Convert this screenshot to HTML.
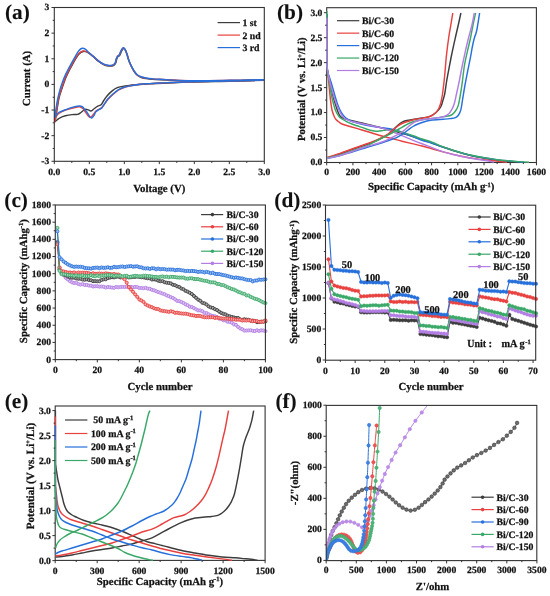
<!DOCTYPE html>
<html><head><meta charset="utf-8"><style>
html,body{margin:0;padding:0;background:#fff;}
svg{display:block;filter:blur(0.5px);}
text{font-family:"Liberation Serif", serif;font-weight:bold;fill:#111;stroke:#111;stroke-width:0.25px;text-rendering:geometricPrecision;}
</style></head><body>
<svg width="550" height="596" viewBox="0 0 550 596">
<rect width="550" height="596" fill="#fff"/>
<g>
<path d="M54.9,122 C55.13,120.72 55.62,118.27 56.3,114.3 C56.98,110.33 58,102.67 59,98.2 C60,93.73 61.18,90.85 62.3,87.5 C63.42,84.15 64.57,80.9 65.7,78.1 C66.83,75.3 67.98,72.95 69.1,70.7 C70.22,68.45 71.28,66.62 72.4,64.6 C73.52,62.58 74.68,60.38 75.8,58.6 C76.92,56.82 77.87,55.08 79.1,53.9 C80.33,52.72 81.97,51.83 83.2,51.5 C84.43,51.17 85.38,51.5 86.5,51.9 C87.62,52.3 88.75,53.08 89.9,53.9 C91.05,54.72 91.93,55.55 93.4,56.8 C94.87,58.05 96.92,60.07 98.7,61.4 C100.48,62.73 102.3,64.02 104.1,64.8 C105.9,65.58 107.93,65.98 109.5,66.1 C111.07,66.22 112.5,65.93 113.5,65.5 C114.5,65.07 115,64.42 115.5,63.5 C116,62.58 116.15,61.12 116.5,60 C116.85,58.88 117.08,57.55 117.6,56.8 C118.12,56.05 118.93,56.47 119.6,55.5 C120.27,54.53 120.93,52.17 121.6,51 C122.27,49.83 122.97,48.65 123.6,48.5 C124.23,48.35 124.83,49.17 125.4,50.1 C125.97,51.03 126.4,52.33 127,54.1 C127.6,55.87 128.22,58.55 129,60.7 C129.78,62.85 130.8,65.15 131.7,67 C132.6,68.85 133.47,70.42 134.4,71.8 C135.33,73.18 136.15,74.35 137.3,75.3 C138.45,76.25 139.8,76.95 141.3,77.5 C142.8,78.05 144.47,78.28 146.3,78.6 C148.13,78.92 149.97,79.2 152.3,79.4 C154.63,79.6 153.97,79.52 160.3,79.8 C166.63,80.08 178.63,80.93 190.3,81.1 C201.97,81.27 217.97,80.97 230.3,80.8 C242.63,80.63 258.63,80.22 264.3,80.1" fill="none" stroke="#3d3d3d" stroke-width="1.45" stroke-linejoin="round"/>
<path d="M264,80.3 C258.33,80.45 242.33,80.92 230,81.2 C217.67,81.48 203.33,81.57 190,82 C176.67,82.43 159.17,83.33 150,83.8 C140.83,84.27 138.43,84.53 135,84.8 C131.57,85.07 131.47,85.13 129.4,85.4 C127.33,85.67 124.62,86.02 122.6,86.4 C120.58,86.78 119.08,86.92 117.3,87.7 C115.52,88.48 113.58,89.75 111.9,91.1 C110.22,92.45 108.55,94.23 107.2,95.8 C105.85,97.37 104.82,99 103.8,100.5 C102.78,102 102.1,103.87 101.1,104.8 C100.1,105.73 98.92,105.48 97.8,106.1 C96.68,106.72 95.53,107.68 94.4,108.5 C93.27,109.32 92.02,110.77 91,111 C89.98,111.23 89.32,110.17 88.3,109.9 C87.28,109.63 86.13,108.97 84.9,109.4 C83.67,109.83 82.13,111.67 80.9,112.5 C79.67,113.33 78.97,114.05 77.5,114.4 C76.03,114.75 74.12,114.37 72.1,114.6 C70.08,114.83 67.42,115.27 65.4,115.8 C63.38,116.33 61.4,117.1 60,117.8 C58.6,118.5 57.9,119.3 57,120 C56.1,120.7 55,121.67 54.6,122" fill="none" stroke="#3d3d3d" stroke-width="1.45" stroke-linejoin="round"/>
<path d="M54.6,121.5 C54.83,120.22 55.32,117.77 56,113.8 C56.68,109.83 57.7,102.17 58.7,97.7 C59.7,93.23 60.88,90.35 62,87 C63.12,83.65 64.27,80.4 65.4,77.6 C66.53,74.8 67.68,72.45 68.8,70.2 C69.92,67.95 70.98,66.12 72.1,64.1 C73.22,62.08 74.38,59.88 75.5,58.1 C76.62,56.32 77.57,54.58 78.8,53.4 C80.03,52.22 81.67,51.33 82.9,51 C84.13,50.67 85.08,51 86.2,51.4 C87.32,51.8 88.45,52.58 89.6,53.4 C90.75,54.22 91.63,55.05 93.1,56.3 C94.57,57.55 96.62,59.57 98.4,60.9 C100.18,62.23 102,63.52 103.8,64.3 C105.6,65.08 107.63,65.48 109.2,65.6 C110.77,65.72 112.2,65.43 113.2,65 C114.2,64.57 114.7,63.92 115.2,63 C115.7,62.08 115.85,60.62 116.2,59.5 C116.55,58.38 116.78,57.05 117.3,56.3 C117.82,55.55 118.63,55.97 119.3,55 C119.97,54.03 120.63,51.67 121.3,50.5 C121.97,49.33 122.67,48.15 123.3,48 C123.93,47.85 124.53,48.67 125.1,49.6 C125.67,50.53 126.1,51.83 126.7,53.6 C127.3,55.37 127.92,58.05 128.7,60.2 C129.48,62.35 130.5,64.65 131.4,66.5 C132.3,68.35 133.17,69.92 134.1,71.3 C135.03,72.68 135.85,73.85 137,74.8 C138.15,75.75 139.5,76.45 141,77 C142.5,77.55 144.17,77.78 146,78.1 C147.83,78.42 149.67,78.7 152,78.9 C154.33,79.1 153.67,79.02 160,79.3 C166.33,79.58 178.33,80.43 190,80.6 C201.67,80.77 217.67,80.47 230,80.3 C242.33,80.13 258.33,79.72 264,79.6" fill="none" stroke="#e8413f" stroke-width="1.45" stroke-linejoin="round"/>
<path d="M264,80 C258.33,80.17 242.33,80.7 230,81 C217.67,81.3 201.67,81.47 190,81.8 C178.33,82.13 166.67,82.7 160,83 C153.33,83.3 153.33,83.4 150,83.6 C146.67,83.8 142.5,83.97 140,84.2 C137.5,84.43 136.55,84.73 135,85 C133.45,85.27 132.53,85.38 130.7,85.8 C128.87,86.22 126.02,86.8 124,87.5 C121.98,88.2 120.4,88.88 118.6,90 C116.8,91.12 115,92.62 113.2,94.2 C111.4,95.78 109.25,97.87 107.8,99.5 C106.35,101.13 105.5,102.65 104.5,104 C103.5,105.35 102.82,106.68 101.8,107.6 C100.78,108.52 99.4,108.88 98.4,109.5 C97.4,110.12 96.62,110.5 95.8,111.3 C94.98,112.1 94.22,113.42 93.5,114.3 C92.78,115.18 92.15,116.12 91.5,116.6 C90.85,117.08 90.27,117.47 89.6,117.2 C88.93,116.93 88.07,115.68 87.5,115 C86.93,114.32 86.7,113.85 86.2,113.1 C85.7,112.35 85.05,111.28 84.5,110.5 C83.95,109.72 83.57,108.95 82.9,108.4 C82.23,107.85 81.18,107.47 80.5,107.2 C79.82,106.93 80.2,106.63 78.8,106.8 C77.4,106.97 74.33,107.63 72.1,108.2 C69.87,108.77 67.63,109.32 65.4,110.2 C63.17,111.08 60.27,112.37 58.7,113.5 C57.13,114.63 56.68,115.67 56,117 C55.32,118.33 54.83,120.75 54.6,121.5" fill="none" stroke="#e8413f" stroke-width="1.45" stroke-linejoin="round"/>
<path d="M54.6,117.5 C54.8,116.25 55.33,112.85 55.8,110 C56.27,107.15 56.7,103.8 57.4,100.4 C58.1,97 59.12,92.73 60,89.6 C60.88,86.47 61.8,84.05 62.7,81.6 C63.6,79.15 64.38,77.13 65.4,74.9 C66.42,72.67 67.68,70.33 68.8,68.2 C69.92,66.07 70.98,64.12 72.1,62.1 C73.22,60.08 74.38,58 75.5,56.1 C76.62,54.2 77.68,52 78.8,50.7 C79.92,49.4 81.07,48.52 82.2,48.3 C83.33,48.08 84.47,48.65 85.6,49.4 C86.73,50.15 87.75,51.68 89,52.8 C90.25,53.92 91.53,54.77 93.1,56.1 C94.67,57.43 96.62,59.45 98.4,60.8 C100.18,62.15 102,63.42 103.8,64.2 C105.6,64.98 107.63,65.38 109.2,65.5 C110.77,65.62 112.2,65.35 113.2,64.9 C114.2,64.45 114.7,63.82 115.2,62.8 C115.7,61.78 115.82,59.8 116.2,58.8 C116.58,57.8 116.98,57.47 117.5,56.8 C118.02,56.13 118.67,55.92 119.3,54.8 C119.93,53.68 120.63,51.27 121.3,50.1 C121.97,48.93 122.67,47.92 123.3,47.8 C123.93,47.68 124.53,48.47 125.1,49.4 C125.67,50.33 126.1,51.6 126.7,53.4 C127.3,55.2 127.92,58.07 128.7,60.2 C129.48,62.33 130.5,64.42 131.4,66.2 C132.3,67.98 133.17,69.52 134.1,70.9 C135.03,72.28 135.85,73.52 137,74.5 C138.15,75.48 139.5,76.22 141,76.8 C142.5,77.38 144.17,77.67 146,78 C147.83,78.33 149.67,78.58 152,78.8 C154.33,79.02 153.67,79 160,79.3 C166.33,79.6 178.33,80.43 190,80.6 C201.67,80.77 217.67,80.47 230,80.3 C242.33,80.13 258.33,79.72 264,79.6" fill="none" stroke="#2670dc" stroke-width="1.45" stroke-linejoin="round"/>
<path d="M264,80 C258.33,80.17 242.33,80.7 230,81 C217.67,81.3 201.67,81.47 190,81.8 C178.33,82.13 166.67,82.7 160,83 C153.33,83.3 153.33,83.4 150,83.6 C146.67,83.8 142.5,83.97 140,84.2 C137.5,84.43 136.55,84.75 135,85 C133.45,85.25 132.53,85.32 130.7,85.7 C128.87,86.08 126.02,86.63 124,87.3 C121.98,87.97 120.4,88.62 118.6,89.7 C116.8,90.78 115,92.23 113.2,93.8 C111.4,95.37 109.25,97.43 107.8,99.1 C106.35,100.77 105.5,102.33 104.5,103.8 C103.5,105.27 102.82,106.88 101.8,107.9 C100.78,108.92 99.4,109.23 98.4,109.9 C97.4,110.57 96.58,110.9 95.8,111.9 C95.02,112.9 94.38,114.88 93.7,115.9 C93.02,116.92 92.37,117.88 91.7,118 C91.03,118.12 90.37,117.38 89.7,116.6 C89.03,115.82 88.48,114.42 87.7,113.3 C86.92,112.18 85.92,111.02 85,109.9 C84.08,108.78 83.23,107.25 82.2,106.6 C81.17,105.95 80.48,105.87 78.8,106 C77.12,106.13 74.33,106.77 72.1,107.4 C69.87,108.03 67.63,108.95 65.4,109.8 C63.17,110.65 60.27,111.55 58.7,112.5 C57.13,113.45 56.68,114.67 56,115.5 C55.32,116.33 54.83,117.17 54.6,117.5" fill="none" stroke="#2670dc" stroke-width="1.45" stroke-linejoin="round"/>
<rect x="54.3" y="7.5" width="210" height="153.8" fill="none" stroke="#333" stroke-width="1.1"/>
<line x1="54.3" y1="161.3" x2="54.3" y2="164.1" stroke="#333" stroke-width="1"/>
<line x1="89.3" y1="161.3" x2="89.3" y2="164.1" stroke="#333" stroke-width="1"/>
<line x1="124.3" y1="161.3" x2="124.3" y2="164.1" stroke="#333" stroke-width="1"/>
<line x1="159.3" y1="161.3" x2="159.3" y2="164.1" stroke="#333" stroke-width="1"/>
<line x1="194.3" y1="161.3" x2="194.3" y2="164.1" stroke="#333" stroke-width="1"/>
<line x1="229.3" y1="161.3" x2="229.3" y2="164.1" stroke="#333" stroke-width="1"/>
<line x1="264.3" y1="161.3" x2="264.3" y2="164.1" stroke="#333" stroke-width="1"/>
<line x1="71.8" y1="161.3" x2="71.8" y2="162.9" stroke="#333" stroke-width="1"/>
<line x1="106.8" y1="161.3" x2="106.8" y2="162.9" stroke="#333" stroke-width="1"/>
<line x1="141.8" y1="161.3" x2="141.8" y2="162.9" stroke="#333" stroke-width="1"/>
<line x1="176.8" y1="161.3" x2="176.8" y2="162.9" stroke="#333" stroke-width="1"/>
<line x1="211.8" y1="161.3" x2="211.8" y2="162.9" stroke="#333" stroke-width="1"/>
<line x1="246.8" y1="161.3" x2="246.8" y2="162.9" stroke="#333" stroke-width="1"/>
<text x="54.3" y="174.6" font-size="9.6" text-anchor="middle" >0.0</text>
<text x="89.3" y="174.6" font-size="9.6" text-anchor="middle" >0.5</text>
<text x="124.3" y="174.6" font-size="9.6" text-anchor="middle" >1.0</text>
<text x="159.3" y="174.6" font-size="9.6" text-anchor="middle" >1.5</text>
<text x="194.3" y="174.6" font-size="9.6" text-anchor="middle" >2.0</text>
<text x="229.3" y="174.6" font-size="9.6" text-anchor="middle" >2.5</text>
<text x="264.3" y="174.6" font-size="9.6" text-anchor="middle" >3.0</text>
<line x1="54.3" y1="161.29" x2="51.5" y2="161.29" stroke="#333" stroke-width="1"/>
<line x1="54.3" y1="135.66" x2="51.5" y2="135.66" stroke="#333" stroke-width="1"/>
<line x1="54.3" y1="110.03" x2="51.5" y2="110.03" stroke="#333" stroke-width="1"/>
<line x1="54.3" y1="84.4" x2="51.5" y2="84.4" stroke="#333" stroke-width="1"/>
<line x1="54.3" y1="58.77" x2="51.5" y2="58.77" stroke="#333" stroke-width="1"/>
<line x1="54.3" y1="33.14" x2="51.5" y2="33.14" stroke="#333" stroke-width="1"/>
<line x1="54.3" y1="7.51" x2="51.5" y2="7.51" stroke="#333" stroke-width="1"/>
<line x1="54.3" y1="148.48" x2="52.7" y2="148.48" stroke="#333" stroke-width="1"/>
<line x1="54.3" y1="122.84" x2="52.7" y2="122.84" stroke="#333" stroke-width="1"/>
<line x1="54.3" y1="97.22" x2="52.7" y2="97.22" stroke="#333" stroke-width="1"/>
<line x1="54.3" y1="71.59" x2="52.7" y2="71.59" stroke="#333" stroke-width="1"/>
<line x1="54.3" y1="45.96" x2="52.7" y2="45.96" stroke="#333" stroke-width="1"/>
<line x1="54.3" y1="20.33" x2="52.7" y2="20.33" stroke="#333" stroke-width="1"/>
<text x="49.3" y="164.19" font-size="9.6" text-anchor="end" >-3</text>
<text x="49.3" y="138.56" font-size="9.6" text-anchor="end" >-2</text>
<text x="49.3" y="112.93" font-size="9.6" text-anchor="end" >-1</text>
<text x="49.3" y="87.3" font-size="9.6" text-anchor="end" >0</text>
<text x="49.3" y="61.67" font-size="9.6" text-anchor="end" >1</text>
<text x="49.3" y="36.04" font-size="9.6" text-anchor="end" >2</text>
<text x="49.3" y="10.41" font-size="9.6" text-anchor="end" >3</text>
<line x1="217.6" y1="22.6" x2="240" y2="22.6" stroke="#3d3d3d" stroke-width="1.2"/>
<text x="242.4" y="26" font-size="9.75" text-anchor="start" >1 st</text>
<line x1="217.6" y1="35.1" x2="240" y2="35.1" stroke="#e8413f" stroke-width="1.2"/>
<text x="242.4" y="38.5" font-size="9.75" text-anchor="start" >2 nd</text>
<line x1="217.6" y1="47.6" x2="240" y2="47.6" stroke="#2670dc" stroke-width="1.2"/>
<text x="242.4" y="51" font-size="9.75" text-anchor="start" >3 rd</text>
<text x="0" y="0" font-size="10.8" text-anchor="middle" transform="translate(30.2,78.5) rotate(-90)">Current (A)</text>
<text x="159.3" y="191.5" font-size="10.8" text-anchor="middle" >Voltage (V)</text>
<text x="5" y="18.8" font-size="21.3" text-anchor="start" style="stroke-width:0.1px">(a)</text>
</g>
<rect x="326.7" y="7.7" width="209.7" height="154.8" fill="none" stroke="#333" stroke-width="1.1"/>
<path d="M326.8,14 C326.8,21.67 326.67,50.5 326.8,60 C326.93,69.5 327.23,68 327.6,71 C327.97,74 328.43,75.33 329,78 C329.57,80.67 330.33,84 331,87 C331.67,90 332.17,92.83 333,96 C333.83,99.17 335.17,103.33 336,106 C336.83,108.67 337.33,110.33 338,112 C338.67,113.67 339.17,114.97 340,116 C340.83,117.03 342,117.65 343,118.2 C344,118.75 344.5,118.88 346,119.3 C347.5,119.72 349.33,120.08 352,120.7 C354.67,121.32 358.67,122.2 362,123 C365.33,123.8 368.67,124.67 372,125.5 C375.33,126.33 378.67,127.17 382,128 C385.33,128.83 388.67,129.63 392,130.5 C395.33,131.37 398.67,132.25 402,133.2 C405.33,134.15 408.67,135.13 412,136.2 C415.33,137.27 418.67,138.47 422,139.6 C425.33,140.73 428.67,141.8 432,143 C435.33,144.2 438.5,145.55 442,146.8 C445.5,148.05 449.33,149.33 453,150.5 C456.67,151.67 460.33,152.8 464,153.8 C467.67,154.8 471.33,155.72 475,156.5 C478.67,157.28 482.33,157.88 486,158.5 C489.67,159.12 493.33,159.7 497,160.2 C500.67,160.7 504.83,161.15 508,161.5 C511.17,161.85 514.67,162.17 516,162.3" fill="none" stroke="#3d3d3d" stroke-width="1.45" stroke-linejoin="round"/>
<path d="M326.8,14 C326.8,21.67 326.67,50.33 326.8,60 C326.93,69.67 327.32,68.67 327.6,72 C327.88,75.33 328.18,77 328.5,80 C328.82,83 329.17,86.67 329.5,90 C329.83,93.33 330.08,96.67 330.5,100 C330.92,103.33 331.42,107.33 332,110 C332.58,112.67 333.33,114.42 334,116 C334.67,117.58 335.17,118.5 336,119.5 C336.83,120.5 338,121.25 339,122 C340,122.75 340.17,123.25 342,124 C343.83,124.75 346.67,125.5 350,126.5 C353.33,127.5 358.33,128.92 362,130 C365.67,131.08 368.67,132 372,133 C375.33,134 378.67,135.07 382,136 C385.33,136.93 388.67,137.73 392,138.6 C395.33,139.47 398.67,140.37 402,141.2 C405.33,142.03 408.67,142.8 412,143.6 C415.33,144.4 418.67,145.13 422,146 C425.33,146.87 428.67,147.87 432,148.8 C435.33,149.73 438.5,150.67 442,151.6 C445.5,152.53 449.33,153.53 453,154.4 C456.67,155.27 460.33,156.1 464,156.8 C467.67,157.5 471.33,158.07 475,158.6 C478.67,159.13 482.5,159.6 486,160 C489.5,160.4 492.5,160.63 496,161 C499.5,161.37 505.17,162 507,162.2" fill="none" stroke="#e8413f" stroke-width="1.45" stroke-linejoin="round"/>
<path d="M326.8,14 C326.8,21.67 326.67,50.5 326.8,60 C326.93,69.5 327.23,68.33 327.6,71 C327.97,73.67 328.43,74.17 329,76 C329.57,77.83 330.33,79.83 331,82 C331.67,84.17 332.33,86.67 333,89 C333.67,91.33 334.25,93.5 335,96 C335.75,98.5 336.67,101.67 337.5,104 C338.33,106.33 339.08,108.17 340,110 C340.92,111.83 342,113.67 343,115 C344,116.33 344.83,117.08 346,118 C347.17,118.92 348.67,119.83 350,120.5 C351.33,121.17 352,121.38 354,122 C356,122.62 359,123.5 362,124.2 C365,124.9 368.67,125.6 372,126.2 C375.33,126.8 378.67,127.28 382,127.8 C385.33,128.32 389,128.68 392,129.3 C395,129.92 397.67,130.72 400,131.5 C402.33,132.28 403.67,133.08 406,134 C408.33,134.92 411.33,135.97 414,137 C416.67,138.03 419,139.17 422,140.2 C425,141.23 428.67,142.1 432,143.2 C435.33,144.3 438.5,145.6 442,146.8 C445.5,148 449.4,149.28 453,150.4 C456.6,151.52 460.1,152.57 463.6,153.5 C467.1,154.43 470.35,155.25 474,156 C477.65,156.75 481.67,157.4 485.5,158 C489.33,158.6 493.37,159.13 497,159.6 C500.63,160.07 504.13,160.47 507.3,160.8 C510.47,161.13 513.22,161.35 516,161.6 C518.78,161.85 522.67,162.18 524,162.3" fill="none" stroke="#2670dc" stroke-width="1.45" stroke-linejoin="round"/>
<path d="M326.8,11 C326.8,19.17 326.67,49.83 326.8,60 C326.93,70.17 327.23,68.67 327.6,72 C327.97,75.33 328.43,76.5 329,80 C329.57,83.5 330.25,89 331,93 C331.75,97 332.67,100.92 333.5,104 C334.33,107.08 335.08,109.42 336,111.5 C336.92,113.58 338,115.25 339,116.5 C340,117.75 340.67,118.12 342,119 C343.33,119.88 345.33,120.97 347,121.8 C348.67,122.63 350.33,123.33 352,124 C353.67,124.67 355.33,125.23 357,125.8 C358.67,126.37 360.33,126.83 362,127.4 C363.67,127.97 365.22,128.65 367,129.2 C368.78,129.75 370.83,130.35 372.7,130.7 C374.57,131.05 376.38,131.35 378.2,131.3 C380.02,131.25 381.78,130.63 383.6,130.4 C385.42,130.17 387.28,129.85 389.1,129.9 C390.92,129.95 392.68,130.38 394.5,130.7 C396.32,131.02 398.08,131.35 400,131.8 C401.92,132.25 403.67,132.7 406,133.4 C408.33,134.1 411.33,135.07 414,136 C416.67,136.93 419,137.97 422,139 C425,140.03 428.67,140.97 432,142.2 C435.33,143.43 438.5,145.05 442,146.4 C445.5,147.75 449.4,149.13 453,150.3 C456.6,151.47 460.1,152.48 463.6,153.4 C467.1,154.32 470.35,155.05 474,155.8 C477.65,156.55 481.67,157.25 485.5,157.9 C489.33,158.55 493.37,159.22 497,159.7 C500.63,160.18 503.8,160.48 507.3,160.8 C510.8,161.12 514.38,161.35 518,161.6 C521.62,161.85 527.17,162.18 529,162.3" fill="none" stroke="#3aa868" stroke-width="1.45" stroke-linejoin="round"/>
<path d="M326.8,17.8 C326.8,24.83 326.67,51.3 326.8,60 C326.93,68.7 327.23,67 327.6,70 C327.97,73 328.27,74.67 329,78 C329.73,81.33 331,86.33 332,90 C333,93.67 334,97 335,100 C336,103 337,105.67 338,108 C339,110.33 340,112.33 341,114 C342,115.67 342.67,116.92 344,118 C345.33,119.08 347.33,119.83 349,120.5 C350.67,121.17 350.83,121.25 354,122 C357.17,122.75 363.33,124 368,125 C372.67,126 378,126.92 382,128 C386,129.08 388.67,130.23 392,131.5 C395.33,132.77 398.67,134.22 402,135.6 C405.33,136.98 408.67,138.43 412,139.8 C415.33,141.17 418.67,142.5 422,143.8 C425.33,145.1 428.67,146.33 432,147.6 C435.33,148.87 438.5,150.25 442,151.4 C445.5,152.55 449.4,153.6 453,154.5 C456.6,155.4 460.1,156.08 463.6,156.8 C467.1,157.52 470.35,158.18 474,158.8 C477.65,159.42 482.17,159.97 485.5,160.5 C488.83,161.03 492.58,161.75 494,162" fill="none" stroke="#b27ee3" stroke-width="1.45" stroke-linejoin="round"/>
<path d="M327,158 C329.17,157.33 335.83,155.42 340,154 C344.17,152.58 348.33,150.83 352,149.5 C355.67,148.17 358.67,147.17 362,146 C365.33,144.83 369,143.67 372,142.5 C375,141.33 377.33,140.33 380,139 C382.67,137.67 386,135.83 388,134.5 C390,133.17 390.67,132.25 392,131 C393.33,129.75 394.67,128.25 396,127 C397.33,125.75 398.67,124.47 400,123.5 C401.33,122.53 402.33,121.78 404,121.2 C405.67,120.62 408,120.37 410,120 C412,119.63 414,119.33 416,119 C418,118.67 419.67,118.45 422,118 C424.33,117.55 427.67,117.22 430,116.3 C432.33,115.38 434.22,114.05 436,112.5 C437.78,110.95 439.53,109.08 440.7,107 C441.87,104.92 442.32,102.25 443,100 C443.68,97.75 444.22,96.5 444.8,93.5 C445.38,90.5 445.83,86.02 446.5,82 C447.17,77.98 447.88,74.23 448.8,69.4 C449.72,64.57 450.88,58.4 452,53 C453.12,47.6 454.42,41.83 455.5,37 C456.58,32.17 457.6,28 458.5,24 C459.4,20 460.5,14.83 460.9,13" fill="none" stroke="#3d3d3d" stroke-width="1.45" stroke-linejoin="round"/>
<path d="M327,157.5 C329.17,156.83 335.83,154.92 340,153.5 C344.17,152.08 348.33,150.33 352,149 C355.67,147.67 358.67,146.67 362,145.5 C365.33,144.33 369,143.17 372,142 C375,140.83 377.33,139.83 380,138.5 C382.67,137.17 385.83,135.42 388,134 C390.17,132.58 391.33,131.33 393,130 C394.67,128.67 396.5,127.08 398,126 C399.5,124.92 400.67,124.17 402,123.5 C403.33,122.83 404.5,122.5 406,122 C407.5,121.5 409.33,120.95 411,120.5 C412.67,120.05 414.17,119.68 416,119.3 C417.83,118.92 420,118.58 422,118.2 C424,117.82 426.33,117.45 428,117 C429.67,116.55 430.67,116.25 432,115.5 C433.33,114.75 434.83,113.75 436,112.5 C437.17,111.25 438.17,109.75 439,108 C439.83,106.25 440.42,104.33 441,102 C441.58,99.67 442,97.33 442.5,94 C443,90.67 443.58,85.67 444,82 C444.42,78.33 444.58,76.5 445,72 C445.42,67.5 445.87,60.83 446.5,55 C447.13,49.17 448.05,42.17 448.8,37 C449.55,31.83 450.33,28 451,24 C451.67,20 452.5,14.83 452.8,13" fill="none" stroke="#e8413f" stroke-width="1.45" stroke-linejoin="round"/>
<path d="M327,158.4 C329.17,157.92 335.83,156.57 340,155.5 C344.17,154.43 347.83,153.25 352,152 C356.17,150.75 360.67,149.33 365,148 C369.33,146.67 374.33,145.17 378,144 C381.67,142.83 384,142.03 387,141 C390,139.97 393.5,138.88 396,137.8 C398.5,136.72 400,135.8 402,134.5 C404,133.2 406.17,131.33 408,130 C409.83,128.67 411.33,127.5 413,126.5 C414.67,125.5 416.5,124.67 418,124 C419.5,123.33 420.67,122.97 422,122.5 C423.33,122.03 424.33,121.62 426,121.2 C427.67,120.78 429.1,120.33 432,120 C434.9,119.67 440.4,119.43 443.4,119.2 C446.4,118.97 447.98,118.87 450,118.6 C452.02,118.33 454.08,118.2 455.5,117.6 C456.92,117 457.6,116.33 458.5,115 C459.4,113.67 460.23,112.1 460.9,109.6 C461.57,107.1 461.83,104.02 462.5,100 C463.17,95.98 464.07,90.17 464.9,85.5 C465.73,80.83 466.62,76.47 467.5,72 C468.38,67.53 469.37,63.03 470.2,58.7 C471.03,54.37 471.78,49.53 472.5,46 C473.22,42.47 473.95,39.5 474.5,37.5 C475.05,35.5 475.38,35.42 475.8,34 C476.22,32.58 476.55,31.33 477,29 C477.45,26.67 478.07,22.67 478.5,20 C478.93,17.33 479.42,14.17 479.6,13" fill="none" stroke="#2670dc" stroke-width="1.45" stroke-linejoin="round"/>
<path d="M327,158 C329.17,157.5 335.83,156.17 340,155 C344.17,153.83 347.83,152.42 352,151 C356.17,149.58 360.67,148.33 365,146.5 C369.33,144.67 374.67,141.67 378,140 C381.33,138.33 382.67,137.67 385,136.5 C387.33,135.33 389.67,134.25 392,133 C394.33,131.75 396.67,130.33 399,129 C401.33,127.67 404,126.08 406,125 C408,123.92 409.33,123.17 411,122.5 C412.67,121.83 414,121.48 416,121 C418,120.52 420.67,120 423,119.6 C425.33,119.2 427.5,118.93 430,118.6 C432.5,118.27 435.5,117.93 438,117.6 C440.5,117.27 442.75,117.03 445,116.6 C447.25,116.17 449.75,115.93 451.5,115 C453.25,114.07 454.38,112.57 455.5,111 C456.62,109.43 457.45,107.93 458.2,105.6 C458.95,103.27 459.33,100.8 460,97 C460.67,93.2 461.45,88.13 462.2,82.8 C462.95,77.47 463.6,70.37 464.5,65 C465.4,59.63 466.6,55.1 467.6,50.6 C468.6,46.1 469.6,42.27 470.5,38 C471.4,33.73 472.15,29.17 473,25 C473.85,20.83 475.17,15 475.6,13" fill="none" stroke="#3aa868" stroke-width="1.45" stroke-linejoin="round"/>
<path d="M327,158.4 C329.17,157.92 335.83,156.65 340,155.5 C344.17,154.35 347.83,152.92 352,151.5 C356.17,150.08 360,148.58 365,147 C370,145.42 377.5,143.58 382,142 C386.5,140.42 388.67,139.17 392,137.5 C395.33,135.83 399.33,133.75 402,132 C404.67,130.25 406,128.62 408,127 C410,125.38 412,123.43 414,122.3 C416,121.17 417.67,120.75 420,120.2 C422.33,119.65 425,119.42 428,119 C431,118.58 435.33,118.12 438,117.7 C440.67,117.28 442.2,117.17 444,116.5 C445.8,115.83 447.55,114.78 448.8,113.7 C450.05,112.62 450.62,111.57 451.5,110 C452.38,108.43 453.27,106.97 454.1,104.3 C454.93,101.63 455.6,98.05 456.5,94 C457.4,89.95 458.58,84.5 459.5,80 C460.42,75.5 461.1,71.45 462,67 C462.9,62.55 463.9,57.8 464.9,53.3 C465.9,48.8 466.88,44.47 468,40 C469.12,35.53 470.77,29.83 471.6,26.5 C472.43,23.17 472.55,22.25 473,20 C473.45,17.75 474.08,14.17 474.3,13" fill="none" stroke="#b27ee3" stroke-width="1.45" stroke-linejoin="round"/>
<line x1="326.7" y1="162.5" x2="326.7" y2="165.3" stroke="#333" stroke-width="1"/>
<line x1="352.92" y1="162.5" x2="352.92" y2="165.3" stroke="#333" stroke-width="1"/>
<line x1="379.14" y1="162.5" x2="379.14" y2="165.3" stroke="#333" stroke-width="1"/>
<line x1="405.36" y1="162.5" x2="405.36" y2="165.3" stroke="#333" stroke-width="1"/>
<line x1="431.58" y1="162.5" x2="431.58" y2="165.3" stroke="#333" stroke-width="1"/>
<line x1="457.8" y1="162.5" x2="457.8" y2="165.3" stroke="#333" stroke-width="1"/>
<line x1="484.02" y1="162.5" x2="484.02" y2="165.3" stroke="#333" stroke-width="1"/>
<line x1="510.24" y1="162.5" x2="510.24" y2="165.3" stroke="#333" stroke-width="1"/>
<line x1="536.46" y1="162.5" x2="536.46" y2="165.3" stroke="#333" stroke-width="1"/>
<line x1="339.81" y1="162.5" x2="339.81" y2="164.1" stroke="#333" stroke-width="1"/>
<line x1="366.03" y1="162.5" x2="366.03" y2="164.1" stroke="#333" stroke-width="1"/>
<line x1="392.25" y1="162.5" x2="392.25" y2="164.1" stroke="#333" stroke-width="1"/>
<line x1="418.47" y1="162.5" x2="418.47" y2="164.1" stroke="#333" stroke-width="1"/>
<line x1="444.69" y1="162.5" x2="444.69" y2="164.1" stroke="#333" stroke-width="1"/>
<line x1="470.91" y1="162.5" x2="470.91" y2="164.1" stroke="#333" stroke-width="1"/>
<line x1="497.13" y1="162.5" x2="497.13" y2="164.1" stroke="#333" stroke-width="1"/>
<line x1="523.35" y1="162.5" x2="523.35" y2="164.1" stroke="#333" stroke-width="1"/>
<text x="326.7" y="175.1" font-size="9.6" text-anchor="middle" >0</text>
<text x="352.92" y="175.1" font-size="9.6" text-anchor="middle" >200</text>
<text x="379.14" y="175.1" font-size="9.6" text-anchor="middle" >400</text>
<text x="405.36" y="175.1" font-size="9.6" text-anchor="middle" >600</text>
<text x="431.58" y="175.1" font-size="9.6" text-anchor="middle" >800</text>
<text x="457.8" y="175.1" font-size="9.6" text-anchor="middle" >1000</text>
<text x="484.02" y="175.1" font-size="9.6" text-anchor="middle" >1200</text>
<text x="510.24" y="175.1" font-size="9.6" text-anchor="middle" >1400</text>
<text x="536.46" y="175.1" font-size="9.6" text-anchor="middle" >1600</text>
<line x1="326.7" y1="162.5" x2="323.9" y2="162.5" stroke="#333" stroke-width="1"/>
<line x1="326.7" y1="137.53" x2="323.9" y2="137.53" stroke="#333" stroke-width="1"/>
<line x1="326.7" y1="112.57" x2="323.9" y2="112.57" stroke="#333" stroke-width="1"/>
<line x1="326.7" y1="87.61" x2="323.9" y2="87.61" stroke="#333" stroke-width="1"/>
<line x1="326.7" y1="62.64" x2="323.9" y2="62.64" stroke="#333" stroke-width="1"/>
<line x1="326.7" y1="37.67" x2="323.9" y2="37.67" stroke="#333" stroke-width="1"/>
<line x1="326.7" y1="12.71" x2="323.9" y2="12.71" stroke="#333" stroke-width="1"/>
<line x1="326.7" y1="150.02" x2="325.1" y2="150.02" stroke="#333" stroke-width="1"/>
<line x1="326.7" y1="125.05" x2="325.1" y2="125.05" stroke="#333" stroke-width="1"/>
<line x1="326.7" y1="100.09" x2="325.1" y2="100.09" stroke="#333" stroke-width="1"/>
<line x1="326.7" y1="75.12" x2="325.1" y2="75.12" stroke="#333" stroke-width="1"/>
<line x1="326.7" y1="50.16" x2="325.1" y2="50.16" stroke="#333" stroke-width="1"/>
<line x1="326.7" y1="25.19" x2="325.1" y2="25.19" stroke="#333" stroke-width="1"/>
<text x="322.4" y="165.4" font-size="9.6" text-anchor="end" >0.0</text>
<text x="322.4" y="140.44" font-size="9.6" text-anchor="end" >0.5</text>
<text x="322.4" y="115.47" font-size="9.6" text-anchor="end" >1.0</text>
<text x="322.4" y="90.51" font-size="9.6" text-anchor="end" >1.5</text>
<text x="322.4" y="65.54" font-size="9.6" text-anchor="end" >2.0</text>
<text x="322.4" y="40.57" font-size="9.6" text-anchor="end" >2.5</text>
<text x="322.4" y="15.61" font-size="9.6" text-anchor="end" >3.0</text>
<line x1="337" y1="20.7" x2="359.3" y2="20.7" stroke="#3d3d3d" stroke-width="1.2"/>
<text x="362.1" y="24.1" font-size="9.75" text-anchor="start" >Bi/C-30</text>
<line x1="337" y1="33.15" x2="359.3" y2="33.15" stroke="#e8413f" stroke-width="1.2"/>
<text x="362.1" y="36.55" font-size="9.75" text-anchor="start" >Bi/C-60</text>
<line x1="337" y1="45.6" x2="359.3" y2="45.6" stroke="#2670dc" stroke-width="1.2"/>
<text x="362.1" y="49" font-size="9.75" text-anchor="start" >Bi/C-90</text>
<line x1="337" y1="58.05" x2="359.3" y2="58.05" stroke="#3aa868" stroke-width="1.2"/>
<text x="362.1" y="61.45" font-size="9.75" text-anchor="start" >Bi/C-120</text>
<line x1="337" y1="70.5" x2="359.3" y2="70.5" stroke="#b27ee3" stroke-width="1.2"/>
<text x="362.1" y="73.9" font-size="9.75" text-anchor="start" >Bi/C-150</text>
<text x="0" y="0" font-size="10.8" text-anchor="middle" transform="translate(305.4,89.2) rotate(-90)">Potential (V vs. Li<tspan dy="-3.6" font-size="6.5">+</tspan><tspan dy="3.6">/Li)</tspan></text>
<text x="431.2" y="190.3" font-size="10.8" text-anchor="middle" >Specific Capacity (mAh g<tspan dy="-3.6" font-size="6.5">-1</tspan><tspan dy="3.6">)</tspan></text>
<text x="277" y="18.8" font-size="21.3" text-anchor="start" style="stroke-width:0.1px">(b)</text>
<path d="M57.4,241.66 L59.5,267.43 L61.6,271.99 L63.7,275.31 L65.8,277.85 L67.91,279.42 L70.01,281.21 L72.11,282.39 L74.21,283.05 L76.31,282.8 L78.41,284 L80.51,284.62 L82.61,284.13 L84.71,284.97 L86.81,284.89 L88.92,285.55 L91.02,285.68 L93.12,286.48 L95.22,286.27 L97.32,286.17 L99.42,286.66 L101.52,286.57 L103.62,286.78 L105.72,287.54 L107.82,286.96 L109.93,287.26 L112.03,287.54 L114.13,287.81 L116.23,286.93 L118.33,287.32 L120.43,287.05 L122.53,286.86 L124.63,287.02 L126.73,286.79 L128.83,287.31 L130.94,286.87 L133.04,287.33 L135.14,286.91 L137.24,287.05 L139.34,287.94 L141.44,287.99 L143.54,288.23 L145.64,287.78 L147.74,288.65 L149.84,288.77 L151.95,289.82 L154.05,290.33 L156.15,291.17 L158.25,292.06 L160.35,292.68 L162.45,293.54 L164.55,294.19 L166.65,295.4 L168.75,296.13 L170.85,297.19 L172.96,298.03 L175.06,299.34 L177.16,300.85 L179.26,301.11 L181.36,301.98 L183.46,303.03 L185.56,304.36 L187.66,305.19 L189.76,306.69 L191.87,307.03 L193.97,308.15 L196.07,309.31 L198.17,310.4 L200.27,310.44 L202.37,311.16 L204.47,312.95 L206.57,313.07 L208.67,314.28 L210.77,315.36 L212.88,316.01 L214.98,316.33 L217.08,317.03 L219.18,318.69 L221.28,318.9 L223.38,320.3 L225.48,320.46 L227.58,321.72 L229.68,322.01 L231.78,322.77 L233.88,324.33 L235.99,324.9 L238.09,326.9 L240.19,328.42 L242.29,329.17 L244.39,330.62 L246.49,330.53 L248.59,330.4 L250.69,330.28 L252.79,330.83 L254.89,331.04 L257,330.27 L259.1,330.93 L261.2,330.35 L263.3,330.5 L265.4,331.12" fill="none" stroke="#b27ee3" stroke-width="1"/>
<g fill="#dcc4f2" stroke="#b27ee3" stroke-width="0.9"><circle cx="57.4" cy="241.66" r="1.55"/><circle cx="59.5" cy="267.43" r="1.55"/><circle cx="61.6" cy="271.99" r="1.55"/><circle cx="63.7" cy="275.31" r="1.55"/><circle cx="65.8" cy="277.85" r="1.55"/><circle cx="67.91" cy="279.42" r="1.55"/><circle cx="70.01" cy="281.21" r="1.55"/><circle cx="72.11" cy="282.39" r="1.55"/><circle cx="74.21" cy="283.05" r="1.55"/><circle cx="76.31" cy="282.8" r="1.55"/><circle cx="78.41" cy="284" r="1.55"/><circle cx="80.51" cy="284.62" r="1.55"/><circle cx="82.61" cy="284.13" r="1.55"/><circle cx="84.71" cy="284.97" r="1.55"/><circle cx="86.81" cy="284.89" r="1.55"/><circle cx="88.92" cy="285.55" r="1.55"/><circle cx="91.02" cy="285.68" r="1.55"/><circle cx="93.12" cy="286.48" r="1.55"/><circle cx="95.22" cy="286.27" r="1.55"/><circle cx="97.32" cy="286.17" r="1.55"/><circle cx="99.42" cy="286.66" r="1.55"/><circle cx="101.52" cy="286.57" r="1.55"/><circle cx="103.62" cy="286.78" r="1.55"/><circle cx="105.72" cy="287.54" r="1.55"/><circle cx="107.82" cy="286.96" r="1.55"/><circle cx="109.93" cy="287.26" r="1.55"/><circle cx="112.03" cy="287.54" r="1.55"/><circle cx="114.13" cy="287.81" r="1.55"/><circle cx="116.23" cy="286.93" r="1.55"/><circle cx="118.33" cy="287.32" r="1.55"/><circle cx="120.43" cy="287.05" r="1.55"/><circle cx="122.53" cy="286.86" r="1.55"/><circle cx="124.63" cy="287.02" r="1.55"/><circle cx="126.73" cy="286.79" r="1.55"/><circle cx="128.83" cy="287.31" r="1.55"/><circle cx="130.94" cy="286.87" r="1.55"/><circle cx="133.04" cy="287.33" r="1.55"/><circle cx="135.14" cy="286.91" r="1.55"/><circle cx="137.24" cy="287.05" r="1.55"/><circle cx="139.34" cy="287.94" r="1.55"/><circle cx="141.44" cy="287.99" r="1.55"/><circle cx="143.54" cy="288.23" r="1.55"/><circle cx="145.64" cy="287.78" r="1.55"/><circle cx="147.74" cy="288.65" r="1.55"/><circle cx="149.84" cy="288.77" r="1.55"/><circle cx="151.95" cy="289.82" r="1.55"/><circle cx="154.05" cy="290.33" r="1.55"/><circle cx="156.15" cy="291.17" r="1.55"/><circle cx="158.25" cy="292.06" r="1.55"/><circle cx="160.35" cy="292.68" r="1.55"/><circle cx="162.45" cy="293.54" r="1.55"/><circle cx="164.55" cy="294.19" r="1.55"/><circle cx="166.65" cy="295.4" r="1.55"/><circle cx="168.75" cy="296.13" r="1.55"/><circle cx="170.85" cy="297.19" r="1.55"/><circle cx="172.96" cy="298.03" r="1.55"/><circle cx="175.06" cy="299.34" r="1.55"/><circle cx="177.16" cy="300.85" r="1.55"/><circle cx="179.26" cy="301.11" r="1.55"/><circle cx="181.36" cy="301.98" r="1.55"/><circle cx="183.46" cy="303.03" r="1.55"/><circle cx="185.56" cy="304.36" r="1.55"/><circle cx="187.66" cy="305.19" r="1.55"/><circle cx="189.76" cy="306.69" r="1.55"/><circle cx="191.87" cy="307.03" r="1.55"/><circle cx="193.97" cy="308.15" r="1.55"/><circle cx="196.07" cy="309.31" r="1.55"/><circle cx="198.17" cy="310.4" r="1.55"/><circle cx="200.27" cy="310.44" r="1.55"/><circle cx="202.37" cy="311.16" r="1.55"/><circle cx="204.47" cy="312.95" r="1.55"/><circle cx="206.57" cy="313.07" r="1.55"/><circle cx="208.67" cy="314.28" r="1.55"/><circle cx="210.77" cy="315.36" r="1.55"/><circle cx="212.88" cy="316.01" r="1.55"/><circle cx="214.98" cy="316.33" r="1.55"/><circle cx="217.08" cy="317.03" r="1.55"/><circle cx="219.18" cy="318.69" r="1.55"/><circle cx="221.28" cy="318.9" r="1.55"/><circle cx="223.38" cy="320.3" r="1.55"/><circle cx="225.48" cy="320.46" r="1.55"/><circle cx="227.58" cy="321.72" r="1.55"/><circle cx="229.68" cy="322.01" r="1.55"/><circle cx="231.78" cy="322.77" r="1.55"/><circle cx="233.88" cy="324.33" r="1.55"/><circle cx="235.99" cy="324.9" r="1.55"/><circle cx="238.09" cy="326.9" r="1.55"/><circle cx="240.19" cy="328.42" r="1.55"/><circle cx="242.29" cy="329.17" r="1.55"/><circle cx="244.39" cy="330.62" r="1.55"/><circle cx="246.49" cy="330.53" r="1.55"/><circle cx="248.59" cy="330.4" r="1.55"/><circle cx="250.69" cy="330.28" r="1.55"/><circle cx="252.79" cy="330.83" r="1.55"/><circle cx="254.89" cy="331.04" r="1.55"/><circle cx="257" cy="330.27" r="1.55"/><circle cx="259.1" cy="330.93" r="1.55"/><circle cx="261.2" cy="330.35" r="1.55"/><circle cx="263.3" cy="330.5" r="1.55"/><circle cx="265.4" cy="331.12" r="1.55"/></g>
<path d="M57.4,242.52 L59.5,269.15 L61.6,273.48 L63.7,274.45 L65.8,275.35 L67.91,276.43 L70.01,277.5 L72.11,277.73 L74.21,277.69 L76.31,278.43 L78.41,278.8 L80.51,278.8 L82.61,279.55 L84.71,279.74 L86.81,279.31 L88.92,280.03 L91.02,280.26 L93.12,281.16 L95.22,281.09 L97.32,281.26 L99.42,281.21 L101.52,279.96 L103.62,279.32 L105.72,279.28 L107.82,278.06 L109.93,277.6 L112.03,277.21 L114.13,277.37 L116.23,276.84 L118.33,276.63 L120.43,277.43 L122.53,277.44 L124.63,276.87 L126.73,276.63 L128.83,277.42 L130.94,277.27 L133.04,276.87 L135.14,276.89 L137.24,276.59 L139.34,276.96 L141.44,277.23 L143.54,277.32 L145.64,277.94 L147.74,278.29 L149.84,278.31 L151.95,279.51 L154.05,279.38 L156.15,279.71 L158.25,280.64 L160.35,281.22 L162.45,281.12 L164.55,282.19 L166.65,282.73 L168.75,282.96 L170.85,283.4 L172.96,284.73 L175.06,285.22 L177.16,286.35 L179.26,286.97 L181.36,288.52 L183.46,289.22 L185.56,290.88 L187.66,291.65 L189.76,292.81 L191.87,294.06 L193.97,296 L196.07,297.86 L198.17,299.6 L200.27,300.81 L202.37,302.79 L204.47,303.36 L206.57,304.53 L208.67,306.41 L210.77,307.4 L212.88,307.94 L214.98,309.2 L217.08,310.1 L219.18,311.64 L221.28,312.92 L223.38,313.82 L225.48,314.37 L227.58,315.62 L229.68,316.26 L231.78,316.91 L233.88,317.44 L235.99,317.99 L238.09,318 L240.19,319.32 L242.29,319.82 L244.39,319.2 L246.49,319.61 L248.59,319.84 L250.69,320.75 L252.79,320.63 L254.89,321.06 L257,322.2 L259.1,322.07 L261.2,321.71 L263.3,321.63 L265.4,321.53" fill="none" stroke="#3d3d3d" stroke-width="1"/>
<g fill="#a7a7a7" stroke="#3d3d3d" stroke-width="0.9"><circle cx="57.4" cy="242.52" r="1.55"/><circle cx="59.5" cy="269.15" r="1.55"/><circle cx="61.6" cy="273.48" r="1.55"/><circle cx="63.7" cy="274.45" r="1.55"/><circle cx="65.8" cy="275.35" r="1.55"/><circle cx="67.91" cy="276.43" r="1.55"/><circle cx="70.01" cy="277.5" r="1.55"/><circle cx="72.11" cy="277.73" r="1.55"/><circle cx="74.21" cy="277.69" r="1.55"/><circle cx="76.31" cy="278.43" r="1.55"/><circle cx="78.41" cy="278.8" r="1.55"/><circle cx="80.51" cy="278.8" r="1.55"/><circle cx="82.61" cy="279.55" r="1.55"/><circle cx="84.71" cy="279.74" r="1.55"/><circle cx="86.81" cy="279.31" r="1.55"/><circle cx="88.92" cy="280.03" r="1.55"/><circle cx="91.02" cy="280.26" r="1.55"/><circle cx="93.12" cy="281.16" r="1.55"/><circle cx="95.22" cy="281.09" r="1.55"/><circle cx="97.32" cy="281.26" r="1.55"/><circle cx="99.42" cy="281.21" r="1.55"/><circle cx="101.52" cy="279.96" r="1.55"/><circle cx="103.62" cy="279.32" r="1.55"/><circle cx="105.72" cy="279.28" r="1.55"/><circle cx="107.82" cy="278.06" r="1.55"/><circle cx="109.93" cy="277.6" r="1.55"/><circle cx="112.03" cy="277.21" r="1.55"/><circle cx="114.13" cy="277.37" r="1.55"/><circle cx="116.23" cy="276.84" r="1.55"/><circle cx="118.33" cy="276.63" r="1.55"/><circle cx="120.43" cy="277.43" r="1.55"/><circle cx="122.53" cy="277.44" r="1.55"/><circle cx="124.63" cy="276.87" r="1.55"/><circle cx="126.73" cy="276.63" r="1.55"/><circle cx="128.83" cy="277.42" r="1.55"/><circle cx="130.94" cy="277.27" r="1.55"/><circle cx="133.04" cy="276.87" r="1.55"/><circle cx="135.14" cy="276.89" r="1.55"/><circle cx="137.24" cy="276.59" r="1.55"/><circle cx="139.34" cy="276.96" r="1.55"/><circle cx="141.44" cy="277.23" r="1.55"/><circle cx="143.54" cy="277.32" r="1.55"/><circle cx="145.64" cy="277.94" r="1.55"/><circle cx="147.74" cy="278.29" r="1.55"/><circle cx="149.84" cy="278.31" r="1.55"/><circle cx="151.95" cy="279.51" r="1.55"/><circle cx="154.05" cy="279.38" r="1.55"/><circle cx="156.15" cy="279.71" r="1.55"/><circle cx="158.25" cy="280.64" r="1.55"/><circle cx="160.35" cy="281.22" r="1.55"/><circle cx="162.45" cy="281.12" r="1.55"/><circle cx="164.55" cy="282.19" r="1.55"/><circle cx="166.65" cy="282.73" r="1.55"/><circle cx="168.75" cy="282.96" r="1.55"/><circle cx="170.85" cy="283.4" r="1.55"/><circle cx="172.96" cy="284.73" r="1.55"/><circle cx="175.06" cy="285.22" r="1.55"/><circle cx="177.16" cy="286.35" r="1.55"/><circle cx="179.26" cy="286.97" r="1.55"/><circle cx="181.36" cy="288.52" r="1.55"/><circle cx="183.46" cy="289.22" r="1.55"/><circle cx="185.56" cy="290.88" r="1.55"/><circle cx="187.66" cy="291.65" r="1.55"/><circle cx="189.76" cy="292.81" r="1.55"/><circle cx="191.87" cy="294.06" r="1.55"/><circle cx="193.97" cy="296" r="1.55"/><circle cx="196.07" cy="297.86" r="1.55"/><circle cx="198.17" cy="299.6" r="1.55"/><circle cx="200.27" cy="300.81" r="1.55"/><circle cx="202.37" cy="302.79" r="1.55"/><circle cx="204.47" cy="303.36" r="1.55"/><circle cx="206.57" cy="304.53" r="1.55"/><circle cx="208.67" cy="306.41" r="1.55"/><circle cx="210.77" cy="307.4" r="1.55"/><circle cx="212.88" cy="307.94" r="1.55"/><circle cx="214.98" cy="309.2" r="1.55"/><circle cx="217.08" cy="310.1" r="1.55"/><circle cx="219.18" cy="311.64" r="1.55"/><circle cx="221.28" cy="312.92" r="1.55"/><circle cx="223.38" cy="313.82" r="1.55"/><circle cx="225.48" cy="314.37" r="1.55"/><circle cx="227.58" cy="315.62" r="1.55"/><circle cx="229.68" cy="316.26" r="1.55"/><circle cx="231.78" cy="316.91" r="1.55"/><circle cx="233.88" cy="317.44" r="1.55"/><circle cx="235.99" cy="317.99" r="1.55"/><circle cx="238.09" cy="318" r="1.55"/><circle cx="240.19" cy="319.32" r="1.55"/><circle cx="242.29" cy="319.82" r="1.55"/><circle cx="244.39" cy="319.2" r="1.55"/><circle cx="246.49" cy="319.61" r="1.55"/><circle cx="248.59" cy="319.84" r="1.55"/><circle cx="250.69" cy="320.75" r="1.55"/><circle cx="252.79" cy="320.63" r="1.55"/><circle cx="254.89" cy="321.06" r="1.55"/><circle cx="257" cy="322.2" r="1.55"/><circle cx="259.1" cy="322.07" r="1.55"/><circle cx="261.2" cy="321.71" r="1.55"/><circle cx="263.3" cy="321.63" r="1.55"/><circle cx="265.4" cy="321.53" r="1.55"/></g>
<path d="M57.4,244.24 L59.5,267.43 L61.6,271.08 L63.7,271.46 L65.8,272 L67.91,272.6 L70.01,272.49 L72.11,272.89 L74.21,272.43 L76.31,273.31 L78.41,272.51 L80.51,272.81 L82.61,272.66 L84.71,272.77 L86.81,272.86 L88.92,273.28 L91.02,273.94 L93.12,273.24 L95.22,273.87 L97.32,273.79 L99.42,273.46 L101.52,273.65 L103.62,273.82 L105.72,273.32 L107.82,273.71 L109.93,274.03 L112.03,274.35 L114.13,273.96 L116.23,274.58 L118.33,274.5 L120.43,275.71 L122.53,277.19 L124.63,279.33 L126.73,282.72 L128.83,287.06 L130.94,289.49 L133.04,291.82 L135.14,294.4 L137.24,296.84 L139.34,299.5 L141.44,300.52 L143.54,301.93 L145.64,304.43 L147.74,305.52 L149.84,306.49 L151.95,307.2 L154.05,308.28 L156.15,308.87 L158.25,309.07 L160.35,310.38 L162.45,310.84 L164.55,311.11 L166.65,311.45 L168.75,311.85 L170.85,311.26 L172.96,311.73 L175.06,312.81 L177.16,312.67 L179.26,313.14 L181.36,313.43 L183.46,313.68 L185.56,313.66 L187.66,314.09 L189.76,314.69 L191.87,315.23 L193.97,315.45 L196.07,315.98 L198.17,315.86 L200.27,316.02 L202.37,316.69 L204.47,317.2 L206.57,317.3 L208.67,317.29 L210.77,317.26 L212.88,317.27 L214.98,317.89 L217.08,317.63 L219.18,317.98 L221.28,318.35 L223.38,318.58 L225.48,318.63 L227.58,318.59 L229.68,319.05 L231.78,318.94 L233.88,319.35 L235.99,319.75 L238.09,319.62 L240.19,319.66 L242.29,320.5 L244.39,320.34 L246.49,320.55 L248.59,320.28 L250.69,320.43 L252.79,321.21 L254.89,320.88 L257,321.13 L259.1,321.82 L261.2,321.75 L263.3,321.59 L265.4,320.36" fill="none" stroke="#e8413f" stroke-width="1"/>
<g fill="#f4a9a8" stroke="#e8413f" stroke-width="0.9"><circle cx="57.4" cy="244.24" r="1.55"/><circle cx="59.5" cy="267.43" r="1.55"/><circle cx="61.6" cy="271.08" r="1.55"/><circle cx="63.7" cy="271.46" r="1.55"/><circle cx="65.8" cy="272" r="1.55"/><circle cx="67.91" cy="272.6" r="1.55"/><circle cx="70.01" cy="272.49" r="1.55"/><circle cx="72.11" cy="272.89" r="1.55"/><circle cx="74.21" cy="272.43" r="1.55"/><circle cx="76.31" cy="273.31" r="1.55"/><circle cx="78.41" cy="272.51" r="1.55"/><circle cx="80.51" cy="272.81" r="1.55"/><circle cx="82.61" cy="272.66" r="1.55"/><circle cx="84.71" cy="272.77" r="1.55"/><circle cx="86.81" cy="272.86" r="1.55"/><circle cx="88.92" cy="273.28" r="1.55"/><circle cx="91.02" cy="273.94" r="1.55"/><circle cx="93.12" cy="273.24" r="1.55"/><circle cx="95.22" cy="273.87" r="1.55"/><circle cx="97.32" cy="273.79" r="1.55"/><circle cx="99.42" cy="273.46" r="1.55"/><circle cx="101.52" cy="273.65" r="1.55"/><circle cx="103.62" cy="273.82" r="1.55"/><circle cx="105.72" cy="273.32" r="1.55"/><circle cx="107.82" cy="273.71" r="1.55"/><circle cx="109.93" cy="274.03" r="1.55"/><circle cx="112.03" cy="274.35" r="1.55"/><circle cx="114.13" cy="273.96" r="1.55"/><circle cx="116.23" cy="274.58" r="1.55"/><circle cx="118.33" cy="274.5" r="1.55"/><circle cx="120.43" cy="275.71" r="1.55"/><circle cx="122.53" cy="277.19" r="1.55"/><circle cx="124.63" cy="279.33" r="1.55"/><circle cx="126.73" cy="282.72" r="1.55"/><circle cx="128.83" cy="287.06" r="1.55"/><circle cx="130.94" cy="289.49" r="1.55"/><circle cx="133.04" cy="291.82" r="1.55"/><circle cx="135.14" cy="294.4" r="1.55"/><circle cx="137.24" cy="296.84" r="1.55"/><circle cx="139.34" cy="299.5" r="1.55"/><circle cx="141.44" cy="300.52" r="1.55"/><circle cx="143.54" cy="301.93" r="1.55"/><circle cx="145.64" cy="304.43" r="1.55"/><circle cx="147.74" cy="305.52" r="1.55"/><circle cx="149.84" cy="306.49" r="1.55"/><circle cx="151.95" cy="307.2" r="1.55"/><circle cx="154.05" cy="308.28" r="1.55"/><circle cx="156.15" cy="308.87" r="1.55"/><circle cx="158.25" cy="309.07" r="1.55"/><circle cx="160.35" cy="310.38" r="1.55"/><circle cx="162.45" cy="310.84" r="1.55"/><circle cx="164.55" cy="311.11" r="1.55"/><circle cx="166.65" cy="311.45" r="1.55"/><circle cx="168.75" cy="311.85" r="1.55"/><circle cx="170.85" cy="311.26" r="1.55"/><circle cx="172.96" cy="311.73" r="1.55"/><circle cx="175.06" cy="312.81" r="1.55"/><circle cx="177.16" cy="312.67" r="1.55"/><circle cx="179.26" cy="313.14" r="1.55"/><circle cx="181.36" cy="313.43" r="1.55"/><circle cx="183.46" cy="313.68" r="1.55"/><circle cx="185.56" cy="313.66" r="1.55"/><circle cx="187.66" cy="314.09" r="1.55"/><circle cx="189.76" cy="314.69" r="1.55"/><circle cx="191.87" cy="315.23" r="1.55"/><circle cx="193.97" cy="315.45" r="1.55"/><circle cx="196.07" cy="315.98" r="1.55"/><circle cx="198.17" cy="315.86" r="1.55"/><circle cx="200.27" cy="316.02" r="1.55"/><circle cx="202.37" cy="316.69" r="1.55"/><circle cx="204.47" cy="317.2" r="1.55"/><circle cx="206.57" cy="317.3" r="1.55"/><circle cx="208.67" cy="317.29" r="1.55"/><circle cx="210.77" cy="317.26" r="1.55"/><circle cx="212.88" cy="317.27" r="1.55"/><circle cx="214.98" cy="317.89" r="1.55"/><circle cx="217.08" cy="317.63" r="1.55"/><circle cx="219.18" cy="317.98" r="1.55"/><circle cx="221.28" cy="318.35" r="1.55"/><circle cx="223.38" cy="318.58" r="1.55"/><circle cx="225.48" cy="318.63" r="1.55"/><circle cx="227.58" cy="318.59" r="1.55"/><circle cx="229.68" cy="319.05" r="1.55"/><circle cx="231.78" cy="318.94" r="1.55"/><circle cx="233.88" cy="319.35" r="1.55"/><circle cx="235.99" cy="319.75" r="1.55"/><circle cx="238.09" cy="319.62" r="1.55"/><circle cx="240.19" cy="319.66" r="1.55"/><circle cx="242.29" cy="320.5" r="1.55"/><circle cx="244.39" cy="320.34" r="1.55"/><circle cx="246.49" cy="320.55" r="1.55"/><circle cx="248.59" cy="320.28" r="1.55"/><circle cx="250.69" cy="320.43" r="1.55"/><circle cx="252.79" cy="321.21" r="1.55"/><circle cx="254.89" cy="320.88" r="1.55"/><circle cx="257" cy="321.13" r="1.55"/><circle cx="259.1" cy="321.82" r="1.55"/><circle cx="261.2" cy="321.75" r="1.55"/><circle cx="263.3" cy="321.59" r="1.55"/><circle cx="265.4" cy="320.36" r="1.55"/></g>
<path d="M57.4,227.91 L59.5,270.86 L61.6,274.13 L63.7,274.18 L65.8,274.56 L67.91,274.96 L70.01,275.18 L72.11,275.37 L74.21,275.86 L76.31,275.38 L78.41,276 L80.51,275.87 L82.61,275.24 L84.71,276.01 L86.81,275.97 L88.92,275.98 L91.02,275.2 L93.12,276.01 L95.22,276.25 L97.32,275.49 L99.42,276.32 L101.52,275.47 L103.62,275.55 L105.72,275.28 L107.82,275.05 L109.93,275.34 L112.03,275.21 L114.13,276.1 L116.23,275.45 L118.33,275.82 L120.43,275.71 L122.53,276.44 L124.63,275.88 L126.73,275.79 L128.83,276.8 L130.94,276.63 L133.04,276.21 L135.14,275.77 L137.24,276.2 L139.34,276.28 L141.44,276.22 L143.54,275.86 L145.64,275.73 L147.74,276.11 L149.84,276.15 L151.95,276.51 L154.05,276.95 L156.15,276.9 L158.25,277.26 L160.35,276.86 L162.45,276.39 L164.55,276.99 L166.65,276.66 L168.75,277.29 L170.85,276.77 L172.96,276.85 L175.06,277.09 L177.16,277.41 L179.26,277.6 L181.36,277.59 L183.46,277.53 L185.56,278.51 L187.66,278.77 L189.76,278.3 L191.87,278.34 L193.97,278.92 L196.07,279.17 L198.17,279.06 L200.27,279.78 L202.37,280.21 L204.47,280.79 L206.57,280.91 L208.67,281.71 L210.77,282.31 L212.88,282.35 L214.98,282.59 L217.08,283.87 L219.18,284.05 L221.28,284.96 L223.38,285.1 L225.48,286.15 L227.58,287.25 L229.68,288.08 L231.78,289.05 L233.88,289.51 L235.99,290.55 L238.09,291.7 L240.19,292.43 L242.29,293.41 L244.39,293.87 L246.49,295.46 L248.59,295.48 L250.69,296.91 L252.79,297.69 L254.89,298.73 L257,299.25 L259.1,300.17 L261.2,301.39 L263.3,302.41 L265.4,303.11" fill="none" stroke="#3aa868" stroke-width="1"/>
<g fill="#a6d7bb" stroke="#3aa868" stroke-width="0.9"><circle cx="57.4" cy="227.91" r="1.55"/><circle cx="59.5" cy="270.86" r="1.55"/><circle cx="61.6" cy="274.13" r="1.55"/><circle cx="63.7" cy="274.18" r="1.55"/><circle cx="65.8" cy="274.56" r="1.55"/><circle cx="67.91" cy="274.96" r="1.55"/><circle cx="70.01" cy="275.18" r="1.55"/><circle cx="72.11" cy="275.37" r="1.55"/><circle cx="74.21" cy="275.86" r="1.55"/><circle cx="76.31" cy="275.38" r="1.55"/><circle cx="78.41" cy="276" r="1.55"/><circle cx="80.51" cy="275.87" r="1.55"/><circle cx="82.61" cy="275.24" r="1.55"/><circle cx="84.71" cy="276.01" r="1.55"/><circle cx="86.81" cy="275.97" r="1.55"/><circle cx="88.92" cy="275.98" r="1.55"/><circle cx="91.02" cy="275.2" r="1.55"/><circle cx="93.12" cy="276.01" r="1.55"/><circle cx="95.22" cy="276.25" r="1.55"/><circle cx="97.32" cy="275.49" r="1.55"/><circle cx="99.42" cy="276.32" r="1.55"/><circle cx="101.52" cy="275.47" r="1.55"/><circle cx="103.62" cy="275.55" r="1.55"/><circle cx="105.72" cy="275.28" r="1.55"/><circle cx="107.82" cy="275.05" r="1.55"/><circle cx="109.93" cy="275.34" r="1.55"/><circle cx="112.03" cy="275.21" r="1.55"/><circle cx="114.13" cy="276.1" r="1.55"/><circle cx="116.23" cy="275.45" r="1.55"/><circle cx="118.33" cy="275.82" r="1.55"/><circle cx="120.43" cy="275.71" r="1.55"/><circle cx="122.53" cy="276.44" r="1.55"/><circle cx="124.63" cy="275.88" r="1.55"/><circle cx="126.73" cy="275.79" r="1.55"/><circle cx="128.83" cy="276.8" r="1.55"/><circle cx="130.94" cy="276.63" r="1.55"/><circle cx="133.04" cy="276.21" r="1.55"/><circle cx="135.14" cy="275.77" r="1.55"/><circle cx="137.24" cy="276.2" r="1.55"/><circle cx="139.34" cy="276.28" r="1.55"/><circle cx="141.44" cy="276.22" r="1.55"/><circle cx="143.54" cy="275.86" r="1.55"/><circle cx="145.64" cy="275.73" r="1.55"/><circle cx="147.74" cy="276.11" r="1.55"/><circle cx="149.84" cy="276.15" r="1.55"/><circle cx="151.95" cy="276.51" r="1.55"/><circle cx="154.05" cy="276.95" r="1.55"/><circle cx="156.15" cy="276.9" r="1.55"/><circle cx="158.25" cy="277.26" r="1.55"/><circle cx="160.35" cy="276.86" r="1.55"/><circle cx="162.45" cy="276.39" r="1.55"/><circle cx="164.55" cy="276.99" r="1.55"/><circle cx="166.65" cy="276.66" r="1.55"/><circle cx="168.75" cy="277.29" r="1.55"/><circle cx="170.85" cy="276.77" r="1.55"/><circle cx="172.96" cy="276.85" r="1.55"/><circle cx="175.06" cy="277.09" r="1.55"/><circle cx="177.16" cy="277.41" r="1.55"/><circle cx="179.26" cy="277.6" r="1.55"/><circle cx="181.36" cy="277.59" r="1.55"/><circle cx="183.46" cy="277.53" r="1.55"/><circle cx="185.56" cy="278.51" r="1.55"/><circle cx="187.66" cy="278.77" r="1.55"/><circle cx="189.76" cy="278.3" r="1.55"/><circle cx="191.87" cy="278.34" r="1.55"/><circle cx="193.97" cy="278.92" r="1.55"/><circle cx="196.07" cy="279.17" r="1.55"/><circle cx="198.17" cy="279.06" r="1.55"/><circle cx="200.27" cy="279.78" r="1.55"/><circle cx="202.37" cy="280.21" r="1.55"/><circle cx="204.47" cy="280.79" r="1.55"/><circle cx="206.57" cy="280.91" r="1.55"/><circle cx="208.67" cy="281.71" r="1.55"/><circle cx="210.77" cy="282.31" r="1.55"/><circle cx="212.88" cy="282.35" r="1.55"/><circle cx="214.98" cy="282.59" r="1.55"/><circle cx="217.08" cy="283.87" r="1.55"/><circle cx="219.18" cy="284.05" r="1.55"/><circle cx="221.28" cy="284.96" r="1.55"/><circle cx="223.38" cy="285.1" r="1.55"/><circle cx="225.48" cy="286.15" r="1.55"/><circle cx="227.58" cy="287.25" r="1.55"/><circle cx="229.68" cy="288.08" r="1.55"/><circle cx="231.78" cy="289.05" r="1.55"/><circle cx="233.88" cy="289.51" r="1.55"/><circle cx="235.99" cy="290.55" r="1.55"/><circle cx="238.09" cy="291.7" r="1.55"/><circle cx="240.19" cy="292.43" r="1.55"/><circle cx="242.29" cy="293.41" r="1.55"/><circle cx="244.39" cy="293.87" r="1.55"/><circle cx="246.49" cy="295.46" r="1.55"/><circle cx="248.59" cy="295.48" r="1.55"/><circle cx="250.69" cy="296.91" r="1.55"/><circle cx="252.79" cy="297.69" r="1.55"/><circle cx="254.89" cy="298.73" r="1.55"/><circle cx="257" cy="299.25" r="1.55"/><circle cx="259.1" cy="300.17" r="1.55"/><circle cx="261.2" cy="301.39" r="1.55"/><circle cx="263.3" cy="302.41" r="1.55"/><circle cx="265.4" cy="303.11" r="1.55"/></g>
<path d="M57.4,231.35 L59.5,257.12 L61.6,259.33 L63.7,261.52 L65.8,262.89 L67.91,264.38 L70.01,265.46 L72.11,266.28 L74.21,266.84 L76.31,266.56 L78.41,266.82 L80.51,266.74 L82.61,267.06 L84.71,267.91 L86.81,268.18 L88.92,268.32 L91.02,268.61 L93.12,267.98 L95.22,267.73 L97.32,267.59 L99.42,268.16 L101.52,267.43 L103.62,267.91 L105.72,267.7 L107.82,267.29 L109.93,267.85 L112.03,267.72 L114.13,266.83 L116.23,267.26 L118.33,267.06 L120.43,266.7 L122.53,266.47 L124.63,267.03 L126.73,266.57 L128.83,266.33 L130.94,266.15 L133.04,266.65 L135.14,266.48 L137.24,266.31 L139.34,267.11 L141.44,267.38 L143.54,268.25 L145.64,268.52 L147.74,268.24 L149.84,268.93 L151.95,268.26 L154.05,268.36 L156.15,269.32 L158.25,268.57 L160.35,269.28 L162.45,268.99 L164.55,269.12 L166.65,269.72 L168.75,269.45 L170.85,269.59 L172.96,269.57 L175.06,270.26 L177.16,269.9 L179.26,269.82 L181.36,270.26 L183.46,270.53 L185.56,271.11 L187.66,270.85 L189.76,271.14 L191.87,270.9 L193.97,271.1 L196.07,271.37 L198.17,271.93 L200.27,271.61 L202.37,271.78 L204.47,272.41 L206.57,271.84 L208.67,272.38 L210.77,273.23 L212.88,272.7 L214.98,273.81 L217.08,274.04 L219.18,274.07 L221.28,274.63 L223.38,275.1 L225.48,275.44 L227.58,276.06 L229.68,276.64 L231.78,277.21 L233.88,277.75 L235.99,277.51 L238.09,277.8 L240.19,278.34 L242.29,278.46 L244.39,279.17 L246.49,279.74 L248.59,280.09 L250.69,280.06 L252.79,281.39 L254.89,280.57 L257,280.49 L259.1,279.61 L261.2,279.8 L263.3,279.6 L265.4,279.3" fill="none" stroke="#2670dc" stroke-width="1"/>
<g fill="#9dbeef" stroke="#2670dc" stroke-width="0.9"><circle cx="57.4" cy="231.35" r="1.55"/><circle cx="59.5" cy="257.12" r="1.55"/><circle cx="61.6" cy="259.33" r="1.55"/><circle cx="63.7" cy="261.52" r="1.55"/><circle cx="65.8" cy="262.89" r="1.55"/><circle cx="67.91" cy="264.38" r="1.55"/><circle cx="70.01" cy="265.46" r="1.55"/><circle cx="72.11" cy="266.28" r="1.55"/><circle cx="74.21" cy="266.84" r="1.55"/><circle cx="76.31" cy="266.56" r="1.55"/><circle cx="78.41" cy="266.82" r="1.55"/><circle cx="80.51" cy="266.74" r="1.55"/><circle cx="82.61" cy="267.06" r="1.55"/><circle cx="84.71" cy="267.91" r="1.55"/><circle cx="86.81" cy="268.18" r="1.55"/><circle cx="88.92" cy="268.32" r="1.55"/><circle cx="91.02" cy="268.61" r="1.55"/><circle cx="93.12" cy="267.98" r="1.55"/><circle cx="95.22" cy="267.73" r="1.55"/><circle cx="97.32" cy="267.59" r="1.55"/><circle cx="99.42" cy="268.16" r="1.55"/><circle cx="101.52" cy="267.43" r="1.55"/><circle cx="103.62" cy="267.91" r="1.55"/><circle cx="105.72" cy="267.7" r="1.55"/><circle cx="107.82" cy="267.29" r="1.55"/><circle cx="109.93" cy="267.85" r="1.55"/><circle cx="112.03" cy="267.72" r="1.55"/><circle cx="114.13" cy="266.83" r="1.55"/><circle cx="116.23" cy="267.26" r="1.55"/><circle cx="118.33" cy="267.06" r="1.55"/><circle cx="120.43" cy="266.7" r="1.55"/><circle cx="122.53" cy="266.47" r="1.55"/><circle cx="124.63" cy="267.03" r="1.55"/><circle cx="126.73" cy="266.57" r="1.55"/><circle cx="128.83" cy="266.33" r="1.55"/><circle cx="130.94" cy="266.15" r="1.55"/><circle cx="133.04" cy="266.65" r="1.55"/><circle cx="135.14" cy="266.48" r="1.55"/><circle cx="137.24" cy="266.31" r="1.55"/><circle cx="139.34" cy="267.11" r="1.55"/><circle cx="141.44" cy="267.38" r="1.55"/><circle cx="143.54" cy="268.25" r="1.55"/><circle cx="145.64" cy="268.52" r="1.55"/><circle cx="147.74" cy="268.24" r="1.55"/><circle cx="149.84" cy="268.93" r="1.55"/><circle cx="151.95" cy="268.26" r="1.55"/><circle cx="154.05" cy="268.36" r="1.55"/><circle cx="156.15" cy="269.32" r="1.55"/><circle cx="158.25" cy="268.57" r="1.55"/><circle cx="160.35" cy="269.28" r="1.55"/><circle cx="162.45" cy="268.99" r="1.55"/><circle cx="164.55" cy="269.12" r="1.55"/><circle cx="166.65" cy="269.72" r="1.55"/><circle cx="168.75" cy="269.45" r="1.55"/><circle cx="170.85" cy="269.59" r="1.55"/><circle cx="172.96" cy="269.57" r="1.55"/><circle cx="175.06" cy="270.26" r="1.55"/><circle cx="177.16" cy="269.9" r="1.55"/><circle cx="179.26" cy="269.82" r="1.55"/><circle cx="181.36" cy="270.26" r="1.55"/><circle cx="183.46" cy="270.53" r="1.55"/><circle cx="185.56" cy="271.11" r="1.55"/><circle cx="187.66" cy="270.85" r="1.55"/><circle cx="189.76" cy="271.14" r="1.55"/><circle cx="191.87" cy="270.9" r="1.55"/><circle cx="193.97" cy="271.1" r="1.55"/><circle cx="196.07" cy="271.37" r="1.55"/><circle cx="198.17" cy="271.93" r="1.55"/><circle cx="200.27" cy="271.61" r="1.55"/><circle cx="202.37" cy="271.78" r="1.55"/><circle cx="204.47" cy="272.41" r="1.55"/><circle cx="206.57" cy="271.84" r="1.55"/><circle cx="208.67" cy="272.38" r="1.55"/><circle cx="210.77" cy="273.23" r="1.55"/><circle cx="212.88" cy="272.7" r="1.55"/><circle cx="214.98" cy="273.81" r="1.55"/><circle cx="217.08" cy="274.04" r="1.55"/><circle cx="219.18" cy="274.07" r="1.55"/><circle cx="221.28" cy="274.63" r="1.55"/><circle cx="223.38" cy="275.1" r="1.55"/><circle cx="225.48" cy="275.44" r="1.55"/><circle cx="227.58" cy="276.06" r="1.55"/><circle cx="229.68" cy="276.64" r="1.55"/><circle cx="231.78" cy="277.21" r="1.55"/><circle cx="233.88" cy="277.75" r="1.55"/><circle cx="235.99" cy="277.51" r="1.55"/><circle cx="238.09" cy="277.8" r="1.55"/><circle cx="240.19" cy="278.34" r="1.55"/><circle cx="242.29" cy="278.46" r="1.55"/><circle cx="244.39" cy="279.17" r="1.55"/><circle cx="246.49" cy="279.74" r="1.55"/><circle cx="248.59" cy="280.09" r="1.55"/><circle cx="250.69" cy="280.06" r="1.55"/><circle cx="252.79" cy="281.39" r="1.55"/><circle cx="254.89" cy="280.57" r="1.55"/><circle cx="257" cy="280.49" r="1.55"/><circle cx="259.1" cy="279.61" r="1.55"/><circle cx="261.2" cy="279.8" r="1.55"/><circle cx="263.3" cy="279.6" r="1.55"/><circle cx="265.4" cy="279.3" r="1.55"/></g>
<rect x="55.3" y="205" width="210.1" height="154.6" fill="none" stroke="#333" stroke-width="1.1"/>
<line x1="55.3" y1="359.6" x2="55.3" y2="362.4" stroke="#333" stroke-width="1"/>
<line x1="97.32" y1="359.6" x2="97.32" y2="362.4" stroke="#333" stroke-width="1"/>
<line x1="139.34" y1="359.6" x2="139.34" y2="362.4" stroke="#333" stroke-width="1"/>
<line x1="181.36" y1="359.6" x2="181.36" y2="362.4" stroke="#333" stroke-width="1"/>
<line x1="223.38" y1="359.6" x2="223.38" y2="362.4" stroke="#333" stroke-width="1"/>
<line x1="265.4" y1="359.6" x2="265.4" y2="362.4" stroke="#333" stroke-width="1"/>
<line x1="76.31" y1="359.6" x2="76.31" y2="361.2" stroke="#333" stroke-width="1"/>
<line x1="118.33" y1="359.6" x2="118.33" y2="361.2" stroke="#333" stroke-width="1"/>
<line x1="160.35" y1="359.6" x2="160.35" y2="361.2" stroke="#333" stroke-width="1"/>
<line x1="202.37" y1="359.6" x2="202.37" y2="361.2" stroke="#333" stroke-width="1"/>
<line x1="244.39" y1="359.6" x2="244.39" y2="361.2" stroke="#333" stroke-width="1"/>
<text x="55.3" y="372.9" font-size="9.6" text-anchor="middle" >0</text>
<text x="97.32" y="372.9" font-size="9.6" text-anchor="middle" >20</text>
<text x="139.34" y="372.9" font-size="9.6" text-anchor="middle" >40</text>
<text x="181.36" y="372.9" font-size="9.6" text-anchor="middle" >60</text>
<text x="223.38" y="372.9" font-size="9.6" text-anchor="middle" >80</text>
<text x="265.4" y="372.9" font-size="9.6" text-anchor="middle" >100</text>
<line x1="55.3" y1="359.6" x2="52.5" y2="359.6" stroke="#333" stroke-width="1"/>
<line x1="55.3" y1="342.42" x2="52.5" y2="342.42" stroke="#333" stroke-width="1"/>
<line x1="55.3" y1="325.24" x2="52.5" y2="325.24" stroke="#333" stroke-width="1"/>
<line x1="55.3" y1="308.06" x2="52.5" y2="308.06" stroke="#333" stroke-width="1"/>
<line x1="55.3" y1="290.88" x2="52.5" y2="290.88" stroke="#333" stroke-width="1"/>
<line x1="55.3" y1="273.7" x2="52.5" y2="273.7" stroke="#333" stroke-width="1"/>
<line x1="55.3" y1="256.52" x2="52.5" y2="256.52" stroke="#333" stroke-width="1"/>
<line x1="55.3" y1="239.34" x2="52.5" y2="239.34" stroke="#333" stroke-width="1"/>
<line x1="55.3" y1="222.16" x2="52.5" y2="222.16" stroke="#333" stroke-width="1"/>
<line x1="55.3" y1="204.98" x2="52.5" y2="204.98" stroke="#333" stroke-width="1"/>
<line x1="55.3" y1="351.01" x2="53.7" y2="351.01" stroke="#333" stroke-width="1"/>
<line x1="55.3" y1="333.83" x2="53.7" y2="333.83" stroke="#333" stroke-width="1"/>
<line x1="55.3" y1="316.65" x2="53.7" y2="316.65" stroke="#333" stroke-width="1"/>
<line x1="55.3" y1="299.47" x2="53.7" y2="299.47" stroke="#333" stroke-width="1"/>
<line x1="55.3" y1="282.29" x2="53.7" y2="282.29" stroke="#333" stroke-width="1"/>
<line x1="55.3" y1="265.11" x2="53.7" y2="265.11" stroke="#333" stroke-width="1"/>
<line x1="55.3" y1="247.93" x2="53.7" y2="247.93" stroke="#333" stroke-width="1"/>
<line x1="55.3" y1="230.75" x2="53.7" y2="230.75" stroke="#333" stroke-width="1"/>
<line x1="55.3" y1="213.57" x2="53.7" y2="213.57" stroke="#333" stroke-width="1"/>
<text x="51" y="362.5" font-size="9.6" text-anchor="end" >0</text>
<text x="51" y="345.32" font-size="9.6" text-anchor="end" >200</text>
<text x="51" y="328.14" font-size="9.6" text-anchor="end" >400</text>
<text x="51" y="310.96" font-size="9.6" text-anchor="end" >600</text>
<text x="51" y="293.78" font-size="9.6" text-anchor="end" >800</text>
<text x="51" y="276.6" font-size="9.6" text-anchor="end" >1000</text>
<text x="51" y="259.42" font-size="9.6" text-anchor="end" >1200</text>
<text x="51" y="242.24" font-size="9.6" text-anchor="end" >1400</text>
<text x="51" y="225.06" font-size="9.6" text-anchor="end" >1600</text>
<text x="51" y="207.88" font-size="9.6" text-anchor="end" >1800</text>
<line x1="201.1" y1="214.6" x2="223.2" y2="214.6" stroke="#3d3d3d" stroke-width="1.2"/>
<circle cx="212.4" cy="214.6" r="1.8" fill="#3d3d3d"/>
<text x="226.6" y="218" font-size="9.75" text-anchor="start" >Bi/C-30</text>
<line x1="201.1" y1="226.8" x2="223.2" y2="226.8" stroke="#e8413f" stroke-width="1.2"/>
<circle cx="212.4" cy="226.8" r="1.8" fill="#e8413f"/>
<text x="226.6" y="230.2" font-size="9.75" text-anchor="start" >Bi/C-60</text>
<line x1="201.1" y1="239" x2="223.2" y2="239" stroke="#2670dc" stroke-width="1.2"/>
<circle cx="212.4" cy="239" r="1.8" fill="#2670dc"/>
<text x="226.6" y="242.4" font-size="9.75" text-anchor="start" >Bi/C-90</text>
<line x1="201.1" y1="251.2" x2="223.2" y2="251.2" stroke="#3aa868" stroke-width="1.2"/>
<circle cx="212.4" cy="251.2" r="1.8" fill="#3aa868"/>
<text x="226.6" y="254.6" font-size="9.75" text-anchor="start" >Bi/C-120</text>
<line x1="201.1" y1="263.4" x2="223.2" y2="263.4" stroke="#b27ee3" stroke-width="1.2"/>
<circle cx="212.4" cy="263.4" r="1.8" fill="#b27ee3"/>
<text x="226.6" y="266.8" font-size="9.75" text-anchor="start" >Bi/C-150</text>
<text x="0" y="0" font-size="10.85" text-anchor="middle" transform="translate(26.6,281.1) rotate(-90)">Specific Capacity (mAhg<tspan dy="-3.6" font-size="6.5">-1</tspan><tspan dy="3.6">)</tspan></text>
<text x="160" y="390.3" font-size="10.8" text-anchor="middle" >Cycle number</text>
<text x="4.3" y="206.8" font-size="21.3" text-anchor="start" style="stroke-width:0.1px">(c)</text>
<path d="M328.46,283.12 L331.43,298.62 L334.39,301.69 L337.36,302.21 L340.32,303.13 L343.29,303.48 L346.25,304.6 L349.22,305.16 L352.19,305.92 L355.15,306.57 L358.12,306.82 L361.08,312.24 L364.05,312.58 L367.01,312.58 L369.98,312.44 L372.94,312.23 L375.9,312.19 L378.87,312.23 L381.83,312.33 L384.8,312.6 L387.76,312.45 L390.73,319.95 L393.69,319.86 L396.66,319.94 L399.62,320.28 L402.59,320.36 L405.56,320.14 L408.52,320.71 L411.49,320.35 L414.45,320.4 L417.41,320.48 L420.38,334.03 L423.35,334.3 L426.31,334.65 L429.27,334.99 L432.24,335.15 L435.2,335.7 L438.17,336.32 L441.13,336.34 L444.1,336.95 L447.06,337.25 L450.03,321.85 L453,322.83 L455.96,322.87 L458.92,323.46 L461.89,324.09 L464.86,324.6 L467.82,325.16 L470.78,325.85 L473.75,326.16 L476.72,326.99 L479.68,317.78 L482.64,318.54 L485.61,319.52 L488.57,320.3 L491.54,320.91 L494.5,321.81 L497.47,323.13 L500.44,323.58 L503.4,324.54 L506.37,325.74 L509.33,314.74 L512.29,318.96 L515.26,319.9 L518.23,320.85 L521.19,321.79 L524.15,322.74 L527.12,323.68 L530.09,324.63 L533.05,325.57 L536.01,326.52" fill="none" stroke="#3d3d3d" stroke-width="1.1"/>
<g fill="#3d3d3d" stroke="#3d3d3d" stroke-width="0.4"><circle cx="328.46" cy="283.12" r="1.75"/><circle cx="331.43" cy="298.62" r="1.75"/><circle cx="334.39" cy="301.69" r="1.75"/><circle cx="337.36" cy="302.21" r="1.75"/><circle cx="340.32" cy="303.13" r="1.75"/><circle cx="343.29" cy="303.48" r="1.75"/><circle cx="346.25" cy="304.6" r="1.75"/><circle cx="349.22" cy="305.16" r="1.75"/><circle cx="352.19" cy="305.92" r="1.75"/><circle cx="355.15" cy="306.57" r="1.75"/><circle cx="358.12" cy="306.82" r="1.75"/><circle cx="361.08" cy="312.24" r="1.75"/><circle cx="364.05" cy="312.58" r="1.75"/><circle cx="367.01" cy="312.58" r="1.75"/><circle cx="369.98" cy="312.44" r="1.75"/><circle cx="372.94" cy="312.23" r="1.75"/><circle cx="375.9" cy="312.19" r="1.75"/><circle cx="378.87" cy="312.23" r="1.75"/><circle cx="381.83" cy="312.33" r="1.75"/><circle cx="384.8" cy="312.6" r="1.75"/><circle cx="387.76" cy="312.45" r="1.75"/><circle cx="390.73" cy="319.95" r="1.75"/><circle cx="393.69" cy="319.86" r="1.75"/><circle cx="396.66" cy="319.94" r="1.75"/><circle cx="399.62" cy="320.28" r="1.75"/><circle cx="402.59" cy="320.36" r="1.75"/><circle cx="405.56" cy="320.14" r="1.75"/><circle cx="408.52" cy="320.71" r="1.75"/><circle cx="411.49" cy="320.35" r="1.75"/><circle cx="414.45" cy="320.4" r="1.75"/><circle cx="417.41" cy="320.48" r="1.75"/><circle cx="420.38" cy="334.03" r="1.75"/><circle cx="423.35" cy="334.3" r="1.75"/><circle cx="426.31" cy="334.65" r="1.75"/><circle cx="429.27" cy="334.99" r="1.75"/><circle cx="432.24" cy="335.15" r="1.75"/><circle cx="435.2" cy="335.7" r="1.75"/><circle cx="438.17" cy="336.32" r="1.75"/><circle cx="441.13" cy="336.34" r="1.75"/><circle cx="444.1" cy="336.95" r="1.75"/><circle cx="447.06" cy="337.25" r="1.75"/><circle cx="450.03" cy="321.85" r="1.75"/><circle cx="453" cy="322.83" r="1.75"/><circle cx="455.96" cy="322.87" r="1.75"/><circle cx="458.92" cy="323.46" r="1.75"/><circle cx="461.89" cy="324.09" r="1.75"/><circle cx="464.86" cy="324.6" r="1.75"/><circle cx="467.82" cy="325.16" r="1.75"/><circle cx="470.78" cy="325.85" r="1.75"/><circle cx="473.75" cy="326.16" r="1.75"/><circle cx="476.72" cy="326.99" r="1.75"/><circle cx="479.68" cy="317.78" r="1.75"/><circle cx="482.64" cy="318.54" r="1.75"/><circle cx="485.61" cy="319.52" r="1.75"/><circle cx="488.57" cy="320.3" r="1.75"/><circle cx="491.54" cy="320.91" r="1.75"/><circle cx="494.5" cy="321.81" r="1.75"/><circle cx="497.47" cy="323.13" r="1.75"/><circle cx="500.44" cy="323.58" r="1.75"/><circle cx="503.4" cy="324.54" r="1.75"/><circle cx="506.37" cy="325.74" r="1.75"/><circle cx="509.33" cy="314.74" r="1.75"/><circle cx="512.29" cy="318.96" r="1.75"/><circle cx="515.26" cy="319.9" r="1.75"/><circle cx="518.23" cy="320.85" r="1.75"/><circle cx="521.19" cy="321.79" r="1.75"/><circle cx="524.15" cy="322.74" r="1.75"/><circle cx="527.12" cy="323.68" r="1.75"/><circle cx="530.09" cy="324.63" r="1.75"/><circle cx="533.05" cy="325.57" r="1.75"/><circle cx="536.01" cy="326.52" r="1.75"/></g>
<path d="M328.46,282.5 L331.43,298 L334.39,299.49 L337.36,300.11 L340.32,301.06 L343.29,301.87 L346.25,302.93 L349.22,303.47 L352.19,304.21 L355.15,305.08 L358.12,306.16 L361.08,310.86 L364.05,311.03 L367.01,311.26 L369.98,311.3 L372.94,311.28 L375.9,311.21 L378.87,311.23 L381.83,311.02 L384.8,310.9 L387.76,311 L390.73,315.22 L393.69,315.33 L396.66,315.79 L399.62,315.94 L402.59,316.01 L405.56,316.48 L408.52,316.86 L411.49,316.66 L414.45,317.02 L417.41,317.49 L420.38,331.56 L423.35,331.72 L426.31,331.94 L429.27,332.44 L432.24,332.84 L435.2,332.97 L438.17,332.88 L441.13,333.53 L444.1,333.6 L447.06,334.02 L450.03,319.26 L453,319.81 L455.96,320.19 L458.92,320.86 L461.89,321.47 L464.86,321.94 L467.82,322.43 L470.78,322.75 L473.75,323.54 L476.72,324.09 L479.68,311.3 L482.64,312.17 L485.61,312.82 L488.57,314.07 L491.54,314.69 L494.5,315.53 L497.47,316.6 L500.44,316.86 L503.4,318.17 L506.37,319.08 L509.33,308.42 L512.29,309.36 L515.26,310.48 L518.23,311.4 L521.19,312.34 L524.15,313.41 L527.12,314.44 L530.09,315.31 L533.05,315.82 L536.01,315.81" fill="none" stroke="#b27ee3" stroke-width="1.1"/>
<g fill="#b27ee3" stroke="#b27ee3" stroke-width="0.4"><circle cx="328.46" cy="282.5" r="1.75"/><circle cx="331.43" cy="298" r="1.75"/><circle cx="334.39" cy="299.49" r="1.75"/><circle cx="337.36" cy="300.11" r="1.75"/><circle cx="340.32" cy="301.06" r="1.75"/><circle cx="343.29" cy="301.87" r="1.75"/><circle cx="346.25" cy="302.93" r="1.75"/><circle cx="349.22" cy="303.47" r="1.75"/><circle cx="352.19" cy="304.21" r="1.75"/><circle cx="355.15" cy="305.08" r="1.75"/><circle cx="358.12" cy="306.16" r="1.75"/><circle cx="361.08" cy="310.86" r="1.75"/><circle cx="364.05" cy="311.03" r="1.75"/><circle cx="367.01" cy="311.26" r="1.75"/><circle cx="369.98" cy="311.3" r="1.75"/><circle cx="372.94" cy="311.28" r="1.75"/><circle cx="375.9" cy="311.21" r="1.75"/><circle cx="378.87" cy="311.23" r="1.75"/><circle cx="381.83" cy="311.02" r="1.75"/><circle cx="384.8" cy="310.9" r="1.75"/><circle cx="387.76" cy="311" r="1.75"/><circle cx="390.73" cy="315.22" r="1.75"/><circle cx="393.69" cy="315.33" r="1.75"/><circle cx="396.66" cy="315.79" r="1.75"/><circle cx="399.62" cy="315.94" r="1.75"/><circle cx="402.59" cy="316.01" r="1.75"/><circle cx="405.56" cy="316.48" r="1.75"/><circle cx="408.52" cy="316.86" r="1.75"/><circle cx="411.49" cy="316.66" r="1.75"/><circle cx="414.45" cy="317.02" r="1.75"/><circle cx="417.41" cy="317.49" r="1.75"/><circle cx="420.38" cy="331.56" r="1.75"/><circle cx="423.35" cy="331.72" r="1.75"/><circle cx="426.31" cy="331.94" r="1.75"/><circle cx="429.27" cy="332.44" r="1.75"/><circle cx="432.24" cy="332.84" r="1.75"/><circle cx="435.2" cy="332.97" r="1.75"/><circle cx="438.17" cy="332.88" r="1.75"/><circle cx="441.13" cy="333.53" r="1.75"/><circle cx="444.1" cy="333.6" r="1.75"/><circle cx="447.06" cy="334.02" r="1.75"/><circle cx="450.03" cy="319.26" r="1.75"/><circle cx="453" cy="319.81" r="1.75"/><circle cx="455.96" cy="320.19" r="1.75"/><circle cx="458.92" cy="320.86" r="1.75"/><circle cx="461.89" cy="321.47" r="1.75"/><circle cx="464.86" cy="321.94" r="1.75"/><circle cx="467.82" cy="322.43" r="1.75"/><circle cx="470.78" cy="322.75" r="1.75"/><circle cx="473.75" cy="323.54" r="1.75"/><circle cx="476.72" cy="324.09" r="1.75"/><circle cx="479.68" cy="311.3" r="1.75"/><circle cx="482.64" cy="312.17" r="1.75"/><circle cx="485.61" cy="312.82" r="1.75"/><circle cx="488.57" cy="314.07" r="1.75"/><circle cx="491.54" cy="314.69" r="1.75"/><circle cx="494.5" cy="315.53" r="1.75"/><circle cx="497.47" cy="316.6" r="1.75"/><circle cx="500.44" cy="316.86" r="1.75"/><circle cx="503.4" cy="318.17" r="1.75"/><circle cx="506.37" cy="319.08" r="1.75"/><circle cx="509.33" cy="308.42" r="1.75"/><circle cx="512.29" cy="309.36" r="1.75"/><circle cx="515.26" cy="310.48" r="1.75"/><circle cx="518.23" cy="311.4" r="1.75"/><circle cx="521.19" cy="312.34" r="1.75"/><circle cx="524.15" cy="313.41" r="1.75"/><circle cx="527.12" cy="314.44" r="1.75"/><circle cx="530.09" cy="315.31" r="1.75"/><circle cx="533.05" cy="315.82" r="1.75"/><circle cx="536.01" cy="315.81" r="1.75"/></g>
<path d="M328.46,274.13 L331.43,288.7 L334.39,294.22 L337.36,295.3 L340.32,296 L343.29,296.67 L346.25,297.34 L349.22,298.13 L352.19,298.83 L355.15,299.18 L358.12,299.74 L361.08,306.18 L364.05,305.59 L367.01,305.79 L369.98,305.48 L372.94,305.3 L375.9,305.17 L378.87,305.63 L381.83,305.35 L384.8,305.05 L387.76,304.73 L390.73,310.53 L393.69,310.72 L396.66,310.69 L399.62,311.47 L402.59,311.61 L405.56,311.96 L408.52,312.07 L411.49,312.23 L414.45,313.01 L417.41,312.98 L420.38,325.44 L423.35,325.62 L426.31,326.04 L429.27,326.05 L432.24,326.64 L435.2,326.85 L438.17,327.2 L441.13,327.1 L444.1,327.53 L447.06,327.9 L450.03,316.99 L453,317.11 L455.96,317.64 L458.92,318.04 L461.89,318.7 L464.86,319.1 L467.82,319.77 L470.78,319.89 L473.75,320.77 L476.72,320.96 L479.68,308.13 L482.64,308.97 L485.61,310.11 L488.57,310.81 L491.54,311.22 L494.5,312.13 L497.47,312.77 L500.44,313.56 L503.4,314.61 L506.37,315.11 L509.33,305.23 L512.29,306.32 L515.26,307.14 L518.23,308.16 L521.19,308.8 L524.15,309.3 L527.12,310.67 L530.09,311.22 L533.05,312.34 L536.01,313.2" fill="none" stroke="#3aa868" stroke-width="1.1"/>
<g fill="#3aa868" stroke="#3aa868" stroke-width="0.4"><circle cx="328.46" cy="274.13" r="1.75"/><circle cx="331.43" cy="288.7" r="1.75"/><circle cx="334.39" cy="294.22" r="1.75"/><circle cx="337.36" cy="295.3" r="1.75"/><circle cx="340.32" cy="296" r="1.75"/><circle cx="343.29" cy="296.67" r="1.75"/><circle cx="346.25" cy="297.34" r="1.75"/><circle cx="349.22" cy="298.13" r="1.75"/><circle cx="352.19" cy="298.83" r="1.75"/><circle cx="355.15" cy="299.18" r="1.75"/><circle cx="358.12" cy="299.74" r="1.75"/><circle cx="361.08" cy="306.18" r="1.75"/><circle cx="364.05" cy="305.59" r="1.75"/><circle cx="367.01" cy="305.79" r="1.75"/><circle cx="369.98" cy="305.48" r="1.75"/><circle cx="372.94" cy="305.3" r="1.75"/><circle cx="375.9" cy="305.17" r="1.75"/><circle cx="378.87" cy="305.63" r="1.75"/><circle cx="381.83" cy="305.35" r="1.75"/><circle cx="384.8" cy="305.05" r="1.75"/><circle cx="387.76" cy="304.73" r="1.75"/><circle cx="390.73" cy="310.53" r="1.75"/><circle cx="393.69" cy="310.72" r="1.75"/><circle cx="396.66" cy="310.69" r="1.75"/><circle cx="399.62" cy="311.47" r="1.75"/><circle cx="402.59" cy="311.61" r="1.75"/><circle cx="405.56" cy="311.96" r="1.75"/><circle cx="408.52" cy="312.07" r="1.75"/><circle cx="411.49" cy="312.23" r="1.75"/><circle cx="414.45" cy="313.01" r="1.75"/><circle cx="417.41" cy="312.98" r="1.75"/><circle cx="420.38" cy="325.44" r="1.75"/><circle cx="423.35" cy="325.62" r="1.75"/><circle cx="426.31" cy="326.04" r="1.75"/><circle cx="429.27" cy="326.05" r="1.75"/><circle cx="432.24" cy="326.64" r="1.75"/><circle cx="435.2" cy="326.85" r="1.75"/><circle cx="438.17" cy="327.2" r="1.75"/><circle cx="441.13" cy="327.1" r="1.75"/><circle cx="444.1" cy="327.53" r="1.75"/><circle cx="447.06" cy="327.9" r="1.75"/><circle cx="450.03" cy="316.99" r="1.75"/><circle cx="453" cy="317.11" r="1.75"/><circle cx="455.96" cy="317.64" r="1.75"/><circle cx="458.92" cy="318.04" r="1.75"/><circle cx="461.89" cy="318.7" r="1.75"/><circle cx="464.86" cy="319.1" r="1.75"/><circle cx="467.82" cy="319.77" r="1.75"/><circle cx="470.78" cy="319.89" r="1.75"/><circle cx="473.75" cy="320.77" r="1.75"/><circle cx="476.72" cy="320.96" r="1.75"/><circle cx="479.68" cy="308.13" r="1.75"/><circle cx="482.64" cy="308.97" r="1.75"/><circle cx="485.61" cy="310.11" r="1.75"/><circle cx="488.57" cy="310.81" r="1.75"/><circle cx="491.54" cy="311.22" r="1.75"/><circle cx="494.5" cy="312.13" r="1.75"/><circle cx="497.47" cy="312.77" r="1.75"/><circle cx="500.44" cy="313.56" r="1.75"/><circle cx="503.4" cy="314.61" r="1.75"/><circle cx="506.37" cy="315.11" r="1.75"/><circle cx="509.33" cy="305.23" r="1.75"/><circle cx="512.29" cy="306.32" r="1.75"/><circle cx="515.26" cy="307.14" r="1.75"/><circle cx="518.23" cy="308.16" r="1.75"/><circle cx="521.19" cy="308.8" r="1.75"/><circle cx="524.15" cy="309.3" r="1.75"/><circle cx="527.12" cy="310.67" r="1.75"/><circle cx="530.09" cy="311.22" r="1.75"/><circle cx="533.05" cy="312.34" r="1.75"/><circle cx="536.01" cy="313.2" r="1.75"/></g>
<path d="M328.46,259.25 L331.43,281.57 L334.39,285.51 L337.36,286.46 L340.32,287.27 L343.29,287.91 L346.25,288.3 L349.22,289.03 L352.19,290.09 L355.15,290.65 L358.12,290.89 L361.08,296.56 L364.05,296.2 L367.01,296.13 L369.98,295.76 L372.94,295.72 L375.9,295.45 L378.87,295.46 L381.83,295.52 L384.8,295.38 L387.76,295.28 L390.73,301.39 L393.69,301.91 L396.66,302.03 L399.62,301.51 L402.59,302.06 L405.56,301.7 L408.52,302.27 L411.49,302.1 L414.45,302.32 L417.41,302.01 L420.38,314.79 L423.35,315.04 L426.31,315.23 L429.27,315.42 L432.24,316.01 L435.2,316.11 L438.17,316.47 L441.13,316.94 L444.1,316.75 L447.06,317.16 L450.03,301.83 L453,302.61 L455.96,302.8 L458.92,303.25 L461.89,303.49 L464.86,304.29 L467.82,304.52 L470.78,304.84 L473.75,305.49 L476.72,305.59 L479.68,296.37 L482.64,297.08 L485.61,297.45 L488.57,298 L491.54,298.76 L494.5,299.19 L497.47,299.3 L500.44,300.23 L503.4,300.69 L506.37,301.42 L509.33,291.97 L512.29,292.79 L515.26,293.1 L518.23,294.02 L521.19,294.71 L524.15,295.42 L527.12,296.44 L530.09,297.03 L533.05,298.06 L536.01,298.92" fill="none" stroke="#e8413f" stroke-width="1.1"/>
<g fill="#e8413f" stroke="#e8413f" stroke-width="0.4"><circle cx="328.46" cy="259.25" r="1.75"/><circle cx="331.43" cy="281.57" r="1.75"/><circle cx="334.39" cy="285.51" r="1.75"/><circle cx="337.36" cy="286.46" r="1.75"/><circle cx="340.32" cy="287.27" r="1.75"/><circle cx="343.29" cy="287.91" r="1.75"/><circle cx="346.25" cy="288.3" r="1.75"/><circle cx="349.22" cy="289.03" r="1.75"/><circle cx="352.19" cy="290.09" r="1.75"/><circle cx="355.15" cy="290.65" r="1.75"/><circle cx="358.12" cy="290.89" r="1.75"/><circle cx="361.08" cy="296.56" r="1.75"/><circle cx="364.05" cy="296.2" r="1.75"/><circle cx="367.01" cy="296.13" r="1.75"/><circle cx="369.98" cy="295.76" r="1.75"/><circle cx="372.94" cy="295.72" r="1.75"/><circle cx="375.9" cy="295.45" r="1.75"/><circle cx="378.87" cy="295.46" r="1.75"/><circle cx="381.83" cy="295.52" r="1.75"/><circle cx="384.8" cy="295.38" r="1.75"/><circle cx="387.76" cy="295.28" r="1.75"/><circle cx="390.73" cy="301.39" r="1.75"/><circle cx="393.69" cy="301.91" r="1.75"/><circle cx="396.66" cy="302.03" r="1.75"/><circle cx="399.62" cy="301.51" r="1.75"/><circle cx="402.59" cy="302.06" r="1.75"/><circle cx="405.56" cy="301.7" r="1.75"/><circle cx="408.52" cy="302.27" r="1.75"/><circle cx="411.49" cy="302.1" r="1.75"/><circle cx="414.45" cy="302.32" r="1.75"/><circle cx="417.41" cy="302.01" r="1.75"/><circle cx="420.38" cy="314.79" r="1.75"/><circle cx="423.35" cy="315.04" r="1.75"/><circle cx="426.31" cy="315.23" r="1.75"/><circle cx="429.27" cy="315.42" r="1.75"/><circle cx="432.24" cy="316.01" r="1.75"/><circle cx="435.2" cy="316.11" r="1.75"/><circle cx="438.17" cy="316.47" r="1.75"/><circle cx="441.13" cy="316.94" r="1.75"/><circle cx="444.1" cy="316.75" r="1.75"/><circle cx="447.06" cy="317.16" r="1.75"/><circle cx="450.03" cy="301.83" r="1.75"/><circle cx="453" cy="302.61" r="1.75"/><circle cx="455.96" cy="302.8" r="1.75"/><circle cx="458.92" cy="303.25" r="1.75"/><circle cx="461.89" cy="303.49" r="1.75"/><circle cx="464.86" cy="304.29" r="1.75"/><circle cx="467.82" cy="304.52" r="1.75"/><circle cx="470.78" cy="304.84" r="1.75"/><circle cx="473.75" cy="305.49" r="1.75"/><circle cx="476.72" cy="305.59" r="1.75"/><circle cx="479.68" cy="296.37" r="1.75"/><circle cx="482.64" cy="297.08" r="1.75"/><circle cx="485.61" cy="297.45" r="1.75"/><circle cx="488.57" cy="298" r="1.75"/><circle cx="491.54" cy="298.76" r="1.75"/><circle cx="494.5" cy="299.19" r="1.75"/><circle cx="497.47" cy="299.3" r="1.75"/><circle cx="500.44" cy="300.23" r="1.75"/><circle cx="503.4" cy="300.69" r="1.75"/><circle cx="506.37" cy="301.42" r="1.75"/><circle cx="509.33" cy="291.97" r="1.75"/><circle cx="512.29" cy="292.79" r="1.75"/><circle cx="515.26" cy="293.1" r="1.75"/><circle cx="518.23" cy="294.02" r="1.75"/><circle cx="521.19" cy="294.71" r="1.75"/><circle cx="524.15" cy="295.42" r="1.75"/><circle cx="527.12" cy="296.44" r="1.75"/><circle cx="530.09" cy="297.03" r="1.75"/><circle cx="533.05" cy="298.06" r="1.75"/><circle cx="536.01" cy="298.92" r="1.75"/></g>
<path d="M328.46,219.88 L331.43,266.01 L334.39,269.82 L337.36,270.08 L340.32,270.29 L343.29,270.81 L346.25,270.86 L349.22,271.32 L352.19,271.19 L355.15,271.47 L358.12,272.09 L361.08,281.92 L364.05,282.45 L367.01,282.58 L369.98,282.26 L372.94,282.59 L375.9,282.52 L378.87,282.52 L381.83,282.96 L384.8,282.59 L387.76,282.95 L390.73,297.87 L393.69,295.74 L396.66,295.05 L399.62,294.56 L402.59,294.91 L405.56,295.14 L408.52,295.65 L411.49,296.5 L414.45,297.33 L417.41,298.3 L420.38,312.23 L423.35,312.64 L426.31,312.62 L429.27,313.26 L432.24,313.44 L435.2,313.47 L438.17,313.81 L441.13,314.41 L444.1,314.73 L447.06,314.67 L450.03,299.05 L453,299.56 L455.96,299.91 L458.92,300.5 L461.89,301.32 L464.86,301.99 L467.82,302.48 L470.78,302.72 L473.75,303.5 L476.72,303.78 L479.68,289.82 L482.64,289.9 L485.61,290.69 L488.57,290.8 L491.54,291.1 L494.5,291.04 L497.47,291.3 L500.44,291.68 L503.4,291.57 L506.37,292.05 L509.33,281.25 L512.29,281.62 L515.26,281.61 L518.23,282.18 L521.19,282.61 L524.15,283.07 L527.12,283.16 L530.09,283.37 L533.05,283.67 L536.01,283.86" fill="none" stroke="#2670dc" stroke-width="1.1"/>
<g fill="#2670dc" stroke="#2670dc" stroke-width="0.4"><circle cx="328.46" cy="219.88" r="1.75"/><circle cx="331.43" cy="266.01" r="1.75"/><circle cx="334.39" cy="269.82" r="1.75"/><circle cx="337.36" cy="270.08" r="1.75"/><circle cx="340.32" cy="270.29" r="1.75"/><circle cx="343.29" cy="270.81" r="1.75"/><circle cx="346.25" cy="270.86" r="1.75"/><circle cx="349.22" cy="271.32" r="1.75"/><circle cx="352.19" cy="271.19" r="1.75"/><circle cx="355.15" cy="271.47" r="1.75"/><circle cx="358.12" cy="272.09" r="1.75"/><circle cx="361.08" cy="281.92" r="1.75"/><circle cx="364.05" cy="282.45" r="1.75"/><circle cx="367.01" cy="282.58" r="1.75"/><circle cx="369.98" cy="282.26" r="1.75"/><circle cx="372.94" cy="282.59" r="1.75"/><circle cx="375.9" cy="282.52" r="1.75"/><circle cx="378.87" cy="282.52" r="1.75"/><circle cx="381.83" cy="282.96" r="1.75"/><circle cx="384.8" cy="282.59" r="1.75"/><circle cx="387.76" cy="282.95" r="1.75"/><circle cx="390.73" cy="297.87" r="1.75"/><circle cx="393.69" cy="295.74" r="1.75"/><circle cx="396.66" cy="295.05" r="1.75"/><circle cx="399.62" cy="294.56" r="1.75"/><circle cx="402.59" cy="294.91" r="1.75"/><circle cx="405.56" cy="295.14" r="1.75"/><circle cx="408.52" cy="295.65" r="1.75"/><circle cx="411.49" cy="296.5" r="1.75"/><circle cx="414.45" cy="297.33" r="1.75"/><circle cx="417.41" cy="298.3" r="1.75"/><circle cx="420.38" cy="312.23" r="1.75"/><circle cx="423.35" cy="312.64" r="1.75"/><circle cx="426.31" cy="312.62" r="1.75"/><circle cx="429.27" cy="313.26" r="1.75"/><circle cx="432.24" cy="313.44" r="1.75"/><circle cx="435.2" cy="313.47" r="1.75"/><circle cx="438.17" cy="313.81" r="1.75"/><circle cx="441.13" cy="314.41" r="1.75"/><circle cx="444.1" cy="314.73" r="1.75"/><circle cx="447.06" cy="314.67" r="1.75"/><circle cx="450.03" cy="299.05" r="1.75"/><circle cx="453" cy="299.56" r="1.75"/><circle cx="455.96" cy="299.91" r="1.75"/><circle cx="458.92" cy="300.5" r="1.75"/><circle cx="461.89" cy="301.32" r="1.75"/><circle cx="464.86" cy="301.99" r="1.75"/><circle cx="467.82" cy="302.48" r="1.75"/><circle cx="470.78" cy="302.72" r="1.75"/><circle cx="473.75" cy="303.5" r="1.75"/><circle cx="476.72" cy="303.78" r="1.75"/><circle cx="479.68" cy="289.82" r="1.75"/><circle cx="482.64" cy="289.9" r="1.75"/><circle cx="485.61" cy="290.69" r="1.75"/><circle cx="488.57" cy="290.8" r="1.75"/><circle cx="491.54" cy="291.1" r="1.75"/><circle cx="494.5" cy="291.04" r="1.75"/><circle cx="497.47" cy="291.3" r="1.75"/><circle cx="500.44" cy="291.68" r="1.75"/><circle cx="503.4" cy="291.57" r="1.75"/><circle cx="506.37" cy="292.05" r="1.75"/><circle cx="509.33" cy="281.25" r="1.75"/><circle cx="512.29" cy="281.62" r="1.75"/><circle cx="515.26" cy="281.61" r="1.75"/><circle cx="518.23" cy="282.18" r="1.75"/><circle cx="521.19" cy="282.61" r="1.75"/><circle cx="524.15" cy="283.07" r="1.75"/><circle cx="527.12" cy="283.16" r="1.75"/><circle cx="530.09" cy="283.37" r="1.75"/><circle cx="533.05" cy="283.67" r="1.75"/><circle cx="536.01" cy="283.86" r="1.75"/></g>
<rect x="325.5" y="205.2" width="210.2" height="155" fill="none" stroke="#333" stroke-width="1.1"/>
<line x1="325.5" y1="360.2" x2="325.5" y2="363" stroke="#333" stroke-width="1"/>
<line x1="355.15" y1="360.2" x2="355.15" y2="363" stroke="#333" stroke-width="1"/>
<line x1="384.8" y1="360.2" x2="384.8" y2="363" stroke="#333" stroke-width="1"/>
<line x1="414.45" y1="360.2" x2="414.45" y2="363" stroke="#333" stroke-width="1"/>
<line x1="444.1" y1="360.2" x2="444.1" y2="363" stroke="#333" stroke-width="1"/>
<line x1="473.75" y1="360.2" x2="473.75" y2="363" stroke="#333" stroke-width="1"/>
<line x1="503.4" y1="360.2" x2="503.4" y2="363" stroke="#333" stroke-width="1"/>
<line x1="533.05" y1="360.2" x2="533.05" y2="363" stroke="#333" stroke-width="1"/>
<line x1="340.32" y1="360.2" x2="340.32" y2="361.8" stroke="#333" stroke-width="1"/>
<line x1="369.98" y1="360.2" x2="369.98" y2="361.8" stroke="#333" stroke-width="1"/>
<line x1="399.62" y1="360.2" x2="399.62" y2="361.8" stroke="#333" stroke-width="1"/>
<line x1="429.27" y1="360.2" x2="429.27" y2="361.8" stroke="#333" stroke-width="1"/>
<line x1="458.92" y1="360.2" x2="458.92" y2="361.8" stroke="#333" stroke-width="1"/>
<line x1="488.57" y1="360.2" x2="488.57" y2="361.8" stroke="#333" stroke-width="1"/>
<line x1="518.23" y1="360.2" x2="518.23" y2="361.8" stroke="#333" stroke-width="1"/>
<text x="325.5" y="373.5" font-size="9.6" text-anchor="middle" >0</text>
<text x="355.15" y="373.5" font-size="9.6" text-anchor="middle" >10</text>
<text x="384.8" y="373.5" font-size="9.6" text-anchor="middle" >20</text>
<text x="414.45" y="373.5" font-size="9.6" text-anchor="middle" >30</text>
<text x="444.1" y="373.5" font-size="9.6" text-anchor="middle" >40</text>
<text x="473.75" y="373.5" font-size="9.6" text-anchor="middle" >50</text>
<text x="503.4" y="373.5" font-size="9.6" text-anchor="middle" >60</text>
<text x="533.05" y="373.5" font-size="9.6" text-anchor="middle" >70</text>
<line x1="325.5" y1="360" x2="322.7" y2="360" stroke="#333" stroke-width="1"/>
<line x1="325.5" y1="329" x2="322.7" y2="329" stroke="#333" stroke-width="1"/>
<line x1="325.5" y1="298" x2="322.7" y2="298" stroke="#333" stroke-width="1"/>
<line x1="325.5" y1="267" x2="322.7" y2="267" stroke="#333" stroke-width="1"/>
<line x1="325.5" y1="236" x2="322.7" y2="236" stroke="#333" stroke-width="1"/>
<line x1="325.5" y1="205" x2="322.7" y2="205" stroke="#333" stroke-width="1"/>
<line x1="325.5" y1="344.5" x2="323.9" y2="344.5" stroke="#333" stroke-width="1"/>
<line x1="325.5" y1="313.5" x2="323.9" y2="313.5" stroke="#333" stroke-width="1"/>
<line x1="325.5" y1="282.5" x2="323.9" y2="282.5" stroke="#333" stroke-width="1"/>
<line x1="325.5" y1="251.5" x2="323.9" y2="251.5" stroke="#333" stroke-width="1"/>
<line x1="325.5" y1="220.5" x2="323.9" y2="220.5" stroke="#333" stroke-width="1"/>
<text x="321.2" y="362.9" font-size="9.6" text-anchor="end" >0</text>
<text x="321.2" y="331.9" font-size="9.6" text-anchor="end" >500</text>
<text x="321.2" y="300.9" font-size="9.6" text-anchor="end" >1000</text>
<text x="321.2" y="269.9" font-size="9.6" text-anchor="end" >1500</text>
<text x="321.2" y="238.9" font-size="9.6" text-anchor="end" >2000</text>
<text x="321.2" y="207.9" font-size="9.6" text-anchor="end" >2500</text>
<line x1="468.5" y1="217" x2="490.6" y2="217" stroke="#3d3d3d" stroke-width="1.2"/>
<circle cx="479.3" cy="217" r="1.8" fill="#3d3d3d"/>
<text x="493.2" y="220.4" font-size="9.75" text-anchor="start" >Bi/C-30</text>
<line x1="468.5" y1="229.4" x2="490.6" y2="229.4" stroke="#e8413f" stroke-width="1.2"/>
<circle cx="479.3" cy="229.4" r="1.8" fill="#e8413f"/>
<text x="493.2" y="232.8" font-size="9.75" text-anchor="start" >Bi/C-60</text>
<line x1="468.5" y1="241.8" x2="490.6" y2="241.8" stroke="#2670dc" stroke-width="1.2"/>
<circle cx="479.3" cy="241.8" r="1.8" fill="#2670dc"/>
<text x="493.2" y="245.2" font-size="9.75" text-anchor="start" >Bi/C-90</text>
<line x1="468.5" y1="254.2" x2="490.6" y2="254.2" stroke="#3aa868" stroke-width="1.2"/>
<circle cx="479.3" cy="254.2" r="1.8" fill="#3aa868"/>
<text x="493.2" y="257.6" font-size="9.75" text-anchor="start" >Bi/C-120</text>
<line x1="468.5" y1="266.6" x2="490.6" y2="266.6" stroke="#b27ee3" stroke-width="1.2"/>
<circle cx="479.3" cy="266.6" r="1.8" fill="#b27ee3"/>
<text x="493.2" y="270" font-size="9.75" text-anchor="start" >Bi/C-150</text>
<text x="347" y="268.1" font-size="10.4" text-anchor="middle" >50</text>
<text x="372.5" y="281.1" font-size="10.4" text-anchor="middle" >100</text>
<text x="403" y="293.1" font-size="10.4" text-anchor="middle" >200</text>
<text x="432" y="313.2" font-size="10.4" text-anchor="middle" >500</text>
<text x="460.8" y="298.2" font-size="10.4" text-anchor="middle" >200</text>
<text x="491" y="287.6" font-size="10.4" text-anchor="middle" >100</text>
<text x="523.2" y="280.4" font-size="10.4" text-anchor="middle" >50</text>
<text x="467.3" y="347.4" font-size="10.8" text-anchor="start" textLength="18.9" lengthAdjust="spacingAndGlyphs">Unit</text>
<text x="488.6" y="347.4" font-size="10.8" text-anchor="start" >:</text>
<text x="501.5" y="347.4" font-size="10.8" text-anchor="start" textLength="23.2" lengthAdjust="spacingAndGlyphs">mA g</text>
<text x="525.3" y="343.6" font-size="6.5" text-anchor="start" >-1</text>
<text x="0" y="0" font-size="10.8" text-anchor="middle" transform="translate(297.2,282) rotate(-90)">Specific Capacity (mAhg<tspan dy="-3.6" font-size="6.5">-1</tspan><tspan dy="3.6">)</tspan></text>
<text x="431" y="390.3" font-size="10.8" text-anchor="middle" >Cycle number</text>
<text x="274.3" y="206.8" font-size="21.3" text-anchor="start" style="stroke-width:0.1px">(d)</text>
<rect x="55.2" y="406" width="209.9" height="154.4" fill="none" stroke="#333" stroke-width="1.1"/>
<path d="M55.4,410.6 C55.4,418.83 55.33,450.77 55.4,460 C55.47,469.23 55.53,463.67 55.8,466 C56.07,468.33 56.63,471.67 57,474 C57.37,476.33 57.58,478 58,480 C58.42,482 59,484 59.5,486 C60,488 60.5,490 61,492 C61.5,494 62,496 62.5,498 C63,500 63.42,502.17 64,504 C64.58,505.83 65.33,507.67 66,509 C66.67,510.33 67,511 68,512 C69,513 70.67,514.17 72,515 C73.33,515.83 74,516.08 76,517 C78,517.92 81.17,519.5 84,520.5 C86.83,521.5 90,522.25 93,523 C96,523.75 99.17,524.33 102,525 C104.83,525.67 107.67,526.33 110,527 C112.33,527.67 113.67,528.17 116,529 C118.33,529.83 121.33,530.92 124,532 C126.67,533.08 129.33,534.33 132,535.5 C134.67,536.67 137.33,537.92 140,539 C142.67,540.08 145.5,541.23 148,542 C150.5,542.77 152.67,543.02 155,543.6 C157.33,544.18 159.5,544.85 162,545.5 C164.5,546.15 166.7,546.67 170,547.5 C173.3,548.33 177.63,549.58 181.8,550.5 C185.97,551.42 190.52,552.2 195,553 C199.48,553.8 204.2,554.63 208.7,555.3 C213.2,555.97 217.53,556.58 222,557 C226.47,557.42 231.83,557.53 235.5,557.8 C239.17,558.07 241.42,558.35 244,558.6 C246.58,558.85 248.75,559.02 251,559.3 C253.25,559.58 256.42,560.13 257.5,560.3" fill="none" stroke="#3d3d3d" stroke-width="1.45" stroke-linejoin="round"/>
<path d="M55.6,557 C56.67,556.92 59.27,556.83 62,556.5 C64.73,556.17 68.67,555.58 72,555 C75.33,554.42 78.67,553.67 82,553 C85.33,552.33 88.67,551.58 92,551 C95.33,550.42 98.67,550 102,549.5 C105.33,549 108.67,548.58 112,548 C115.33,547.42 118.67,546.67 122,546 C125.33,545.33 128.67,544.83 132,544 C135.33,543.17 138.67,542.03 142,541 C145.33,539.97 149,539.03 152,537.8 C155,536.57 157.27,535.07 160,533.6 C162.73,532.13 165.9,530.33 168.4,529 C170.9,527.67 172.77,526.7 175,525.6 C177.23,524.5 179.63,523.33 181.8,522.4 C183.97,521.47 185.77,520.73 188,520 C190.23,519.27 192.37,518.5 195.2,518 C198.03,517.5 202.3,517.25 205,517 C207.7,516.75 209.27,516.77 211.4,516.5 C213.53,516.23 216.03,515.98 217.8,515.4 C219.57,514.82 220.68,513.93 222,513 C223.32,512.07 224.58,510.97 225.7,509.8 C226.82,508.63 227.77,507.33 228.7,506 C229.63,504.67 230.58,503.13 231.3,501.8 C232.02,500.47 232.47,499.33 233,498 C233.53,496.67 233.85,496.35 234.5,493.8 C235.15,491.25 236.1,486.68 236.9,482.7 C237.7,478.72 238.5,474.43 239.3,469.9 C240.1,465.37 241.03,459.48 241.7,455.5 C242.37,451.52 242.63,448.92 243.3,446 C243.97,443.08 244.77,440.67 245.7,438 C246.63,435.33 248.1,432.17 248.9,430 C249.7,427.83 250.02,426.6 250.5,425 C250.98,423.4 251.42,421.98 251.8,420.4 C252.18,418.82 252.48,417.13 252.8,415.5 C253.12,413.87 253.55,411.42 253.7,410.6" fill="none" stroke="#3d3d3d" stroke-width="1.45" stroke-linejoin="round"/>
<path d="M55.4,416.4 C55.4,427 55.33,468.07 55.4,480 C55.47,491.93 55.53,484.67 55.8,488 C56.07,491.33 56.63,497 57,500 C57.37,503 57.5,504.17 58,506 C58.5,507.83 59.33,509.67 60,511 C60.67,512.33 61,513 62,514 C63,515 64.33,516 66,517 C67.67,518 69.33,519 72,520 C74.67,521 78.67,522 82,523 C85.33,524 88.67,524.92 92,526 C95.33,527.08 98.67,528.33 102,529.5 C105.33,530.67 108.67,531.83 112,533 C115.33,534.17 118.67,535.33 122,536.5 C125.33,537.67 128.67,538.92 132,540 C135.33,541.08 138.67,542 142,543 C145.33,544 148.67,545.03 152,546 C155.33,546.97 159,548.05 162,548.8 C165,549.55 166.7,549.75 170,550.5 C173.3,551.25 177.63,552.5 181.8,553.3 C185.97,554.1 190.52,554.65 195,555.3 C199.48,555.95 204.53,556.65 208.7,557.2 C212.87,557.75 217.12,558.23 220,558.6 C222.88,558.97 224,559.12 226,559.4 C228,559.68 231,560.15 232,560.3" fill="none" stroke="#e8413f" stroke-width="1.45" stroke-linejoin="round"/>
<path d="M55.6,556 C56.67,555.83 59.27,555.5 62,555 C64.73,554.5 68.67,553.75 72,553 C75.33,552.25 78.67,551.33 82,550.5 C85.33,549.67 88.67,548.83 92,548 C95.33,547.17 98.67,546.33 102,545.5 C105.33,544.67 108.67,544 112,543 C115.33,542 118.67,540.67 122,539.5 C125.33,538.33 128.67,537.25 132,536 C135.33,534.75 138.67,533.13 142,532 C145.33,530.87 148.67,530.53 152,529.2 C155.33,527.87 159.27,525.47 162,524 C164.73,522.53 166.4,521.47 168.4,520.4 C170.4,519.33 172.22,518.28 174,517.6 C175.78,516.92 177.43,516.73 179.1,516.3 C180.77,515.87 182.18,515.8 184,515 C185.82,514.2 188,512.92 190,511.5 C192,510.08 194.08,508.33 196,506.5 C197.92,504.67 200,502.35 201.5,500.5 C203,498.65 203.88,497.32 205,495.4 C206.12,493.48 207,491.65 208.2,489 C209.4,486.35 210.87,483.22 212.2,479.5 C213.53,475.78 215,470.97 216.2,466.7 C217.4,462.43 218.33,458.42 219.4,453.9 C220.47,449.38 221.68,443.58 222.6,439.6 C223.52,435.62 224.2,433.27 224.9,430 C225.6,426.73 226.2,423.23 226.8,420 C227.4,416.77 228.22,412.17 228.5,410.6" fill="none" stroke="#e8413f" stroke-width="1.45" stroke-linejoin="round"/>
<path d="M55.4,425.6 C55.4,435.5 55.33,473.6 55.4,485 C55.47,496.4 55.62,490.83 55.8,494 C55.98,497.17 56.22,501.17 56.5,504 C56.78,506.83 57,508.92 57.5,511 C58,513.08 58.75,515 59.5,516.5 C60.25,518 60.92,519 62,520 C63.08,521 64.33,521.67 66,522.5 C67.67,523.33 69.33,524.08 72,525 C74.67,525.92 78.67,527 82,528 C85.33,529 88.67,529.83 92,531 C95.33,532.17 98.67,533.67 102,535 C105.33,536.33 108.67,537.83 112,539 C115.33,540.17 118.67,541 122,542 C125.33,543 128.67,544.03 132,545 C135.33,545.97 138.67,546.97 142,547.8 C145.33,548.63 148.67,549.17 152,550 C155.33,550.83 159,552.03 162,552.8 C165,553.57 166.7,554 170,554.6 C173.3,555.2 178.47,555.92 181.8,556.4 C185.13,556.88 187.63,557.1 190,557.5 C192.37,557.9 194,558.35 196,558.8 C198,559.25 201,559.97 202,560.2" fill="none" stroke="#2670dc" stroke-width="1.45" stroke-linejoin="round"/>
<path d="M55.6,554 C56,553.75 56.93,553 58,552.5 C59.07,552 59.67,551.75 62,551 C64.33,550.25 68.67,549 72,548 C75.33,547 78.67,546 82,545 C85.33,544 88.67,543 92,542 C95.33,541 98.67,540.17 102,539 C105.33,537.83 108.67,536.33 112,535 C115.33,533.67 118.67,532.5 122,531 C125.33,529.5 128.67,527.75 132,526 C135.33,524.25 139,522.08 142,520.5 C145,518.92 147.67,517.58 150,516.5 C152.33,515.42 153.67,514.92 156,514 C158.33,513.08 161.33,512.5 164,511 C166.67,509.5 170,506.83 172,505 C174,503.17 174.67,502 176,500 C177.33,498 178.83,495.33 180,493 C181.17,490.67 182,488.33 183,486 C184,483.67 185,481.83 186,479 C187,476.17 188,472.33 189,469 C190,465.67 191.17,462.17 192,459 C192.83,455.83 193.33,453 194,450 C194.67,447 195.42,443.83 196,441 C196.58,438.17 197,435.67 197.5,433 C198,430.33 198.58,427.5 199,425 C199.42,422.5 199.67,420.4 200,418 C200.33,415.6 200.83,411.83 201,410.6" fill="none" stroke="#2670dc" stroke-width="1.45" stroke-linejoin="round"/>
<path d="M55.4,439.9 C55.4,448.25 55.33,479.98 55.4,490 C55.47,500.02 55.7,497 55.8,500 C55.9,503 55.92,505.33 56,508 C56.08,510.67 56.05,513.67 56.3,516 C56.55,518.33 57.05,520.33 57.5,522 C57.95,523.67 58.42,525 59,526 C59.58,527 60.17,527.47 61,528 C61.83,528.53 62.17,528.62 64,529.2 C65.83,529.78 69,530.7 72,531.5 C75,532.3 78.67,532.92 82,534 C85.33,535.08 88.67,536.67 92,538 C95.33,539.33 99,540.83 102,542 C105,543.17 107.33,543.92 110,545 C112.67,546.08 115.5,547.25 118,548.5 C120.5,549.75 122.67,551.38 125,552.5 C127.33,553.62 129.67,554.4 132,555.2 C134.33,556 136.83,556.7 139,557.3 C141.17,557.9 143.33,558.42 145,558.8 C146.67,559.18 147.67,559.35 149,559.6 C150.33,559.85 152.33,560.18 153,560.3" fill="none" stroke="#3aa868" stroke-width="1.45" stroke-linejoin="round"/>
<path d="M55.6,548 C55.83,547.33 56.27,545.33 57,544 C57.73,542.67 58.83,541.17 60,540 C61.17,538.83 62.33,538.08 64,537 C65.67,535.92 67.67,534.67 70,533.5 C72.33,532.33 75.33,531.25 78,530 C80.67,528.75 83.33,527.33 86,526 C88.67,524.67 91.67,523.17 94,522 C96.33,520.83 98.17,520 100,519 C101.83,518 103.33,517.17 105,516 C106.67,514.83 108.5,513.33 110,512 C111.5,510.67 112.67,509.5 114,508 C115.33,506.5 116.83,504.67 118,503 C119.17,501.33 120,499.83 121,498 C122,496.17 123,494 124,492 C125,490 126,488.17 127,486 C128,483.83 129,481.42 130,479 C131,476.58 132,474.17 133,471.5 C134,468.83 135.08,465.92 136,463 C136.92,460.08 137.67,457 138.5,454 C139.33,451 140.25,447.83 141,445 C141.75,442.17 142.33,439.67 143,437 C143.67,434.33 144.33,431.83 145,429 C145.67,426.17 146.42,422.5 147,420 C147.58,417.5 148,415.57 148.5,414 C149,412.43 149.75,411.17 150,410.6" fill="none" stroke="#3aa868" stroke-width="1.45" stroke-linejoin="round"/>
<line x1="55.2" y1="560.4" x2="55.2" y2="563.2" stroke="#333" stroke-width="1"/>
<line x1="97.18" y1="560.4" x2="97.18" y2="563.2" stroke="#333" stroke-width="1"/>
<line x1="139.16" y1="560.4" x2="139.16" y2="563.2" stroke="#333" stroke-width="1"/>
<line x1="181.14" y1="560.4" x2="181.14" y2="563.2" stroke="#333" stroke-width="1"/>
<line x1="223.12" y1="560.4" x2="223.12" y2="563.2" stroke="#333" stroke-width="1"/>
<line x1="265.1" y1="560.4" x2="265.1" y2="563.2" stroke="#333" stroke-width="1"/>
<line x1="76.19" y1="560.4" x2="76.19" y2="562" stroke="#333" stroke-width="1"/>
<line x1="118.17" y1="560.4" x2="118.17" y2="562" stroke="#333" stroke-width="1"/>
<line x1="160.15" y1="560.4" x2="160.15" y2="562" stroke="#333" stroke-width="1"/>
<line x1="202.13" y1="560.4" x2="202.13" y2="562" stroke="#333" stroke-width="1"/>
<line x1="244.11" y1="560.4" x2="244.11" y2="562" stroke="#333" stroke-width="1"/>
<text x="55.2" y="574.3" font-size="9.6" text-anchor="middle" >0</text>
<text x="97.18" y="574.3" font-size="9.6" text-anchor="middle" >300</text>
<text x="139.16" y="574.3" font-size="9.6" text-anchor="middle" >600</text>
<text x="181.14" y="574.3" font-size="9.6" text-anchor="middle" >900</text>
<text x="223.12" y="574.3" font-size="9.6" text-anchor="middle" >1200</text>
<text x="265.1" y="574.3" font-size="9.6" text-anchor="middle" >1500</text>
<line x1="55.2" y1="560.6" x2="52.4" y2="560.6" stroke="#333" stroke-width="1"/>
<line x1="55.2" y1="535.6" x2="52.4" y2="535.6" stroke="#333" stroke-width="1"/>
<line x1="55.2" y1="510.6" x2="52.4" y2="510.6" stroke="#333" stroke-width="1"/>
<line x1="55.2" y1="485.6" x2="52.4" y2="485.6" stroke="#333" stroke-width="1"/>
<line x1="55.2" y1="460.6" x2="52.4" y2="460.6" stroke="#333" stroke-width="1"/>
<line x1="55.2" y1="435.6" x2="52.4" y2="435.6" stroke="#333" stroke-width="1"/>
<line x1="55.2" y1="410.6" x2="52.4" y2="410.6" stroke="#333" stroke-width="1"/>
<line x1="55.2" y1="548.1" x2="53.6" y2="548.1" stroke="#333" stroke-width="1"/>
<line x1="55.2" y1="523.1" x2="53.6" y2="523.1" stroke="#333" stroke-width="1"/>
<line x1="55.2" y1="498.1" x2="53.6" y2="498.1" stroke="#333" stroke-width="1"/>
<line x1="55.2" y1="473.1" x2="53.6" y2="473.1" stroke="#333" stroke-width="1"/>
<line x1="55.2" y1="448.1" x2="53.6" y2="448.1" stroke="#333" stroke-width="1"/>
<line x1="55.2" y1="423.1" x2="53.6" y2="423.1" stroke="#333" stroke-width="1"/>
<text x="50.9" y="563.5" font-size="9.6" text-anchor="end" >0.0</text>
<text x="50.9" y="538.5" font-size="9.6" text-anchor="end" >0.5</text>
<text x="50.9" y="513.5" font-size="9.6" text-anchor="end" >1.0</text>
<text x="50.9" y="488.5" font-size="9.6" text-anchor="end" >1.5</text>
<text x="50.9" y="463.5" font-size="9.6" text-anchor="end" >2.0</text>
<text x="50.9" y="438.5" font-size="9.6" text-anchor="end" >2.5</text>
<text x="50.9" y="413.5" font-size="9.6" text-anchor="end" >3.0</text>
<line x1="65" y1="420" x2="87.4" y2="420" stroke="#3d3d3d" stroke-width="1.2"/>
<text x="113.4" y="423.4" font-size="9.9" text-anchor="middle" >50 mA g<tspan dy="-3.6" font-size="6.6">-1</tspan></text>
<line x1="65" y1="433.5" x2="87.4" y2="433.5" stroke="#e8413f" stroke-width="1.2"/>
<text x="113.4" y="436.9" font-size="9.9" text-anchor="middle" >100 mA g<tspan dy="-3.6" font-size="6.6">-1</tspan></text>
<line x1="65" y1="447" x2="87.4" y2="447" stroke="#2670dc" stroke-width="1.2"/>
<text x="113.4" y="450.4" font-size="9.9" text-anchor="middle" >200 mA g<tspan dy="-3.6" font-size="6.6">-1</tspan></text>
<line x1="65" y1="460.5" x2="87.4" y2="460.5" stroke="#3aa868" stroke-width="1.2"/>
<text x="113.4" y="463.9" font-size="9.9" text-anchor="middle" >500 mA g<tspan dy="-3.6" font-size="6.6">-1</tspan></text>
<text x="0" y="0" font-size="11.1" text-anchor="middle" transform="translate(33.5,476) rotate(-90)">Potential (V vs. Li<tspan dy="-3.6" font-size="6.5">+</tspan><tspan dy="3.6">/Li)</tspan></text>
<text x="160" y="584.5" font-size="10.8" text-anchor="middle" >Specific Capacity (mAh g<tspan dy="-3.6" font-size="6.5">-1</tspan><tspan dy="3.6">)</tspan></text>
<text x="4.7" y="408.3" font-size="21.3" text-anchor="start" style="stroke-width:0.1px">(e)</text>
<defs><clipPath id="cf"><rect x="326.2" y="405.4" width="210.59999999999997" height="155.20000000000005"/></clipPath></defs>
<g clip-path="url(#cf)">
<path d="M326.2,559.5 L326.3,558.77 L326.42,557.79 L326.56,556.63 L326.72,555.34 L326.9,553.98 L327.1,552.6 L327.3,551.25 L327.5,550 L327.71,548.81 L327.93,547.61 L328.15,546.42 L328.39,545.22 L328.65,544.03 L328.91,542.84 L329.2,541.66 L329.5,540.5 L329.83,539.34 L330.17,538.16 L330.54,536.99 L330.92,535.83 L331.31,534.69 L331.71,533.58 L332.1,532.52 L332.5,531.5 L332.9,530.56 L333.29,529.69 L333.7,528.87 L334.11,528.08 L334.52,527.29 L334.94,526.48 L335.37,525.63 L335.8,524.7 L336.24,523.7 L336.69,522.63 L337.15,521.53 L337.61,520.4 L338.07,519.27 L338.54,518.14 L339.02,517.05 L339.5,516 L339.98,514.99 L340.47,514 L340.96,513.03 L341.46,512.07 L341.96,511.13 L342.47,510.2 L342.98,509.29 L343.5,508.4 L344.01,507.53 L344.5,506.68 L344.99,505.85 L345.49,505.03 L346.01,504.22 L346.56,503.42 L347.15,502.61 L347.8,501.8 L348.52,500.97 L349.29,500.13 L350.11,499.28 L350.96,498.44 L351.83,497.61 L352.7,496.8 L353.56,496.03 L354.4,495.3 L355.22,494.6 L356.03,493.92 L356.84,493.26 L357.65,492.63 L358.46,492.03 L359.27,491.48 L360.08,490.96 L360.9,490.5 L361.72,490.09 L362.55,489.72 L363.37,489.39 L364.2,489.11 L365.03,488.86 L365.85,488.64 L366.68,488.46 L367.5,488.3 L368.32,488.17 L369.13,488.07 L369.94,488.01 L370.76,487.98 L371.57,487.98 L372.38,488.01 L373.19,488.09 L374,488.2 L374.81,488.35 L375.62,488.54 L376.43,488.76 L377.24,489.02 L378.06,489.31 L378.87,489.64 L379.68,490 L380.5,490.4 L381.34,490.85 L382.19,491.36 L383.06,491.92 L383.93,492.51 L384.78,493.1 L385.6,493.7 L386.38,494.27 L387.1,494.8 L387.74,495.28 L388.31,495.72 L388.82,496.14 L389.31,496.56 L389.79,496.98 L390.3,497.44 L390.86,497.94 L391.5,498.5 L392.21,499.14 L392.98,499.86 L393.78,500.62 L394.61,501.41 L395.46,502.2 L396.32,502.98 L397.17,503.72 L398,504.4 L398.82,505.04 L399.65,505.67 L400.47,506.27 L401.3,506.86 L402.13,507.41 L402.95,507.92 L403.78,508.38 L404.6,508.8 L405.42,509.18 L406.23,509.53 L407.04,509.84 L407.86,510.11 L408.67,510.33 L409.48,510.49 L410.29,510.58 L411.1,510.6 L411.91,510.54 L412.72,510.41 L413.53,510.21 L414.34,509.96 L415.16,509.64 L415.97,509.28 L416.78,508.86 L417.6,508.4 L418.42,507.87 L419.25,507.25 L420.07,506.57 L420.9,505.85 L421.73,505.1 L422.55,504.35 L423.38,503.61 L424.2,502.9 L425.02,502.23 L425.83,501.57 L426.64,500.92 L427.45,500.27 L428.26,499.61 L429.07,498.93 L429.88,498.23 L430.7,497.5 L431.54,496.72 L432.4,495.91 L433.27,495.06 L434.14,494.2 L435,493.34 L435.82,492.49 L436.59,491.68 L437.3,490.9 L437.94,490.18 L438.53,489.49 L439.08,488.84 L439.59,488.2 L440.07,487.56 L440.55,486.91 L441.02,486.22 L441.5,485.5 L441.98,484.71 L442.44,483.86 L442.89,482.98 L443.34,482.09 L443.78,481.21 L444.21,480.37 L444.65,479.59 L445.1,478.9 L445.55,478.31 L446,477.79 L446.45,477.33 L446.89,476.92 L447.34,476.53 L447.79,476.14 L448.25,475.73 L448.7,475.3 L449.15,474.84 L449.6,474.38 L450.05,473.92 L450.51,473.45 L450.96,472.98 L451.43,472.52 L451.91,472.06 L452.4,471.6 L452.91,471.14 L453.42,470.67 L453.95,470.21 L454.48,469.74 L455.02,469.29 L455.58,468.84 L456.13,468.41 L456.7,468 L457.28,467.61 L457.87,467.24 L458.48,466.89 L459.09,466.54 L459.71,466.21 L460.32,465.87 L460.92,465.54 L461.5,465.2 L462.07,464.86 L462.62,464.54 L463.17,464.22 L463.71,463.89 L464.25,463.57 L464.8,463.23 L465.34,462.88 L465.9,462.5 L466.46,462.1 L467.02,461.67 L467.59,461.23 L468.16,460.78 L468.73,460.33 L469.31,459.87 L469.9,459.43 L470.5,459 L471.11,458.58 L471.73,458.17 L472.35,457.76 L472.99,457.36 L473.63,456.96 L474.28,456.56 L474.94,456.18 L475.6,455.8 L476.28,455.43 L476.97,455.07 L477.68,454.73 L478.39,454.38 L479.1,454.04 L479.81,453.7 L480.51,453.35 L481.2,453 L481.88,452.65 L482.55,452.29 L483.22,451.94 L483.88,451.58 L484.54,451.22 L485.2,450.86 L485.85,450.48 L486.5,450.1 L487.15,449.71 L487.8,449.31 L488.44,448.9 L489.08,448.49 L489.72,448.08 L490.35,447.66 L490.98,447.23 L491.6,446.8 L492.21,446.36 L492.81,445.91 L493.4,445.45 L493.98,444.99 L494.57,444.53 L495.16,444.07 L495.77,443.63 L496.4,443.2 L497.05,442.8 L497.71,442.42 L498.39,442.06 L499.08,441.71 L499.77,441.34 L500.46,440.96 L501.14,440.55 L501.8,440.1 L502.45,439.61 L503.1,439.09 L503.73,438.54 L504.37,437.97 L505,437.39 L505.63,436.79 L506.26,436.2 L506.9,435.6 L507.55,434.99 L508.22,434.35 L508.9,433.7 L509.58,433.04 L510.24,432.39 L510.87,431.76 L511.46,431.16 L512,430.6 L512.48,430.09 L512.92,429.61 L513.32,429.17 L513.69,428.74 L514.03,428.33 L514.36,427.9 L514.68,427.46 L515,427 L515.32,426.48 L515.64,425.91 L515.95,425.32 L516.24,424.73 L516.51,424.16 L516.74,423.65 L516.94,423.22 L517.1,422.9" fill="none" stroke="#3d3d3d" stroke-width="1"/>
<g fill="#6c6c6c" stroke="#3a3a3a" stroke-width="0.6"><circle cx="517.1" cy="422.9" r="1.8"/><circle cx="514.43" cy="427.81" r="1.8"/><circle cx="510.74" cy="431.9" r="1.8"/><circle cx="506.82" cy="435.67" r="1.8"/><circle cx="502.87" cy="439.27" r="1.8"/><circle cx="498.41" cy="442.06" r="1.8"/><circle cx="494.08" cy="444.91" r="1.8"/><circle cx="489.95" cy="447.92" r="1.8"/><circle cx="485.67" cy="450.58" r="1.8"/><circle cx="481.31" cy="452.94" r="1.8"/><circle cx="476.92" cy="455.1" r="1.8"/><circle cx="472.76" cy="457.5" r="1.8"/><circle cx="468.87" cy="460.22" r="1.8"/><circle cx="465.13" cy="463.01" r="1.8"/><circle cx="461.19" cy="465.38" r="1.8"/><circle cx="457.25" cy="467.63" r="1.8"/><circle cx="453.74" cy="470.39" r="1.8"/><circle cx="450.55" cy="473.41" r="1.8"/><circle cx="447.45" cy="476.43" r="1.8"/><circle cx="444.63" cy="479.64" r="1.8"/><circle cx="442.65" cy="483.46" r="1.8"/><circle cx="440.4" cy="487.12" r="1.8"/><circle cx="437.69" cy="490.46" r="1.8"/><circle cx="434.75" cy="493.59" r="1.8"/><circle cx="431.67" cy="496.59" r="1.8"/><circle cx="428.46" cy="499.44" r="1.8"/><circle cx="425.11" cy="502.15" r="1.8"/><circle cx="421.87" cy="504.97" r="1.8"/><circle cx="418.59" cy="507.75" r="1.8"/><circle cx="414.81" cy="509.78" r="1.8"/><circle cx="410.62" cy="510.59" r="1.8"/><circle cx="406.46" cy="509.61" r="1.8"/><circle cx="402.61" cy="507.7" r="1.8"/><circle cx="399.09" cy="505.24" r="1.8"/><circle cx="395.78" cy="502.49" r="1.8"/><circle cx="392.65" cy="499.55" r="1.8"/><circle cx="389.45" cy="496.68" r="1.8"/><circle cx="386.06" cy="494.03" r="1.8"/><circle cx="382.53" cy="491.58" r="1.8"/><circle cx="378.73" cy="489.58" r="1.8"/><circle cx="374.63" cy="488.32" r="1.8"/><circle cx="370.35" cy="487.99" r="1.8"/><circle cx="366.1" cy="488.59" r="1.8"/><circle cx="362.03" cy="489.95" r="1.8"/><circle cx="358.33" cy="492.13" r="1.8"/><circle cx="354.97" cy="494.81" r="1.8"/><circle cx="351.76" cy="497.67" r="1.8"/><circle cx="348.74" cy="500.73" r="1.8"/><circle cx="346.09" cy="504.11" r="1.8"/><circle cx="343.86" cy="507.78" r="1.8"/><circle cx="341.75" cy="511.53" r="1.8"/><circle cx="339.8" cy="515.37" r="1.8"/><circle cx="338.06" cy="519.3" r="1.8"/><circle cx="336.42" cy="523.27" r="1.8"/><circle cx="334.59" cy="527.16" r="1.8"/><circle cx="332.7" cy="531.02" r="1.8"/><circle cx="331.19" cy="535.05" r="1.8"/><circle cx="329.88" cy="539.14" r="1.8"/><circle cx="328.81" cy="543.31" r="1.8"/><circle cx="327.95" cy="547.52" r="1.8"/><circle cx="327.22" cy="551.76" r="1.8"/><circle cx="326.64" cy="556.02" r="1.8"/></g>
<path d="M326.2,559.5 L326.26,558.84 L326.32,557.97 L326.4,556.93 L326.49,555.77 L326.6,554.55 L326.72,553.31 L326.85,552.11 L327,551 L327.17,549.94 L327.36,548.86 L327.57,547.78 L327.79,546.71 L328.02,545.65 L328.25,544.62 L328.48,543.64 L328.7,542.7 L328.92,541.81 L329.14,540.97 L329.36,540.16 L329.59,539.38 L329.81,538.62 L330.04,537.9 L330.27,537.19 L330.5,536.5 L330.73,535.83 L330.96,535.19 L331.2,534.57 L331.43,533.98 L331.67,533.41 L331.91,532.86 L332.15,532.32 L332.4,531.8 L332.65,531.3 L332.9,530.82 L333.16,530.37 L333.42,529.93 L333.68,529.51 L333.95,529.1 L334.22,528.7 L334.5,528.3 L334.78,527.91 L335.07,527.53 L335.37,527.16 L335.67,526.8 L335.97,526.45 L336.28,526.12 L336.59,525.8 L336.9,525.5 L337.21,525.22 L337.53,524.95 L337.85,524.7 L338.17,524.46 L338.49,524.23 L338.82,524.01 L339.16,523.8 L339.5,523.6 L339.85,523.4 L340.2,523.22 L340.56,523.04 L340.92,522.87 L341.28,522.72 L341.65,522.57 L342.03,522.43 L342.4,522.3 L342.78,522.18 L343.16,522.07 L343.54,521.97 L343.93,521.88 L344.32,521.8 L344.71,521.73 L345.11,521.66 L345.5,521.6 L345.89,521.55 L346.29,521.5 L346.69,521.45 L347.09,521.42 L347.49,521.39 L347.89,521.38 L348.29,521.38 L348.7,521.4 L349.11,521.43 L349.52,521.48 L349.94,521.54 L350.36,521.61 L350.77,521.7 L351.19,521.79 L351.6,521.89 L352,522 L352.4,522.12 L352.79,522.25 L353.19,522.39 L353.58,522.54 L353.96,522.7 L354.34,522.86 L354.72,523.03 L355.1,523.2 L355.47,523.37 L355.85,523.55 L356.22,523.73 L356.59,523.92 L356.95,524.11 L357.31,524.3 L357.66,524.5 L358,524.7 L358.33,524.91 L358.65,525.12 L358.95,525.34 L359.26,525.56 L359.56,525.78 L359.86,526 L360.18,526.21 L360.5,526.4 L360.84,526.6 L361.2,526.83 L361.56,527.07 L361.93,527.29 L362.3,527.48 L362.65,527.62 L362.99,527.7 L363.3,527.7 L363.58,527.61 L363.84,527.46 L364.09,527.25 L364.32,526.98 L364.55,526.68 L364.78,526.34 L365.03,525.98 L365.3,525.6 L365.59,525.2 L365.9,524.77 L366.22,524.31 L366.55,523.82 L366.88,523.3 L367.2,522.76 L367.51,522.19 L367.8,521.6 L368.07,520.98 L368.33,520.33 L368.58,519.66 L368.82,518.96 L369.06,518.24 L369.3,517.5 L369.54,516.75 L369.8,516 L370.06,515.23 L370.33,514.45 L370.59,513.65 L370.86,512.84 L371.14,512.01 L371.42,511.18 L371.7,510.34 L372,509.5 L372.3,508.66 L372.61,507.83 L372.93,507 L373.26,506.16 L373.59,505.29 L373.92,504.4 L374.26,503.47 L374.6,502.5 L374.95,501.46 L375.31,500.36 L375.67,499.21 L376.04,498.04 L376.41,496.86 L376.78,495.7 L377.15,494.57 L377.5,493.5 L377.85,492.48 L378.19,491.5 L378.52,490.54 L378.86,489.6 L379.19,488.67 L379.52,487.75 L379.86,486.83 L380.2,485.9 L380.55,484.96 L380.9,484.01 L381.25,483.07 L381.6,482.13 L381.95,481.2 L382.3,480.28 L382.65,479.38 L383,478.5 L383.33,477.66 L383.64,476.86 L383.95,476.09 L384.26,475.33 L384.57,474.56 L384.91,473.76 L385.29,472.91 L385.7,472 L386.16,471.01 L386.67,469.96 L387.21,468.86 L387.77,467.74 L388.34,466.6 L388.91,465.47 L389.47,464.36 L390,463.3 L390.51,462.27 L391.02,461.25 L391.51,460.24 L392.01,459.25 L392.5,458.27 L392.99,457.3 L393.49,456.34 L394,455.4 L394.52,454.47 L395.04,453.56 L395.56,452.66 L396.09,451.77 L396.62,450.9 L397.15,450.03 L397.67,449.16 L398.2,448.3 L398.73,447.45 L399.25,446.6 L399.78,445.77 L400.31,444.94 L400.83,444.12 L401.36,443.29 L401.88,442.45 L402.4,441.6 L402.92,440.74 L403.43,439.87 L403.94,438.99 L404.45,438.11 L404.96,437.23 L405.47,436.35 L405.98,435.47 L406.5,434.6 L407.01,433.74 L407.52,432.89 L408.02,432.04 L408.52,431.19 L409.04,430.34 L409.57,429.48 L410.12,428.6 L410.7,427.7 L411.31,426.77 L411.94,425.83 L412.58,424.86 L413.25,423.89 L413.93,422.91 L414.61,421.93 L415.31,420.96 L416,420 L416.7,419.05 L417.42,418.1 L418.15,417.15 L418.89,416.21 L419.62,415.27 L420.36,414.34 L421.09,413.41 L421.8,412.5 L422.54,411.55 L423.33,410.55 L424.13,409.53 L424.91,408.53 L425.65,407.59 L426.32,406.75 L426.88,406.04 L427.3,405.5" fill="none" stroke="#b27ee3" stroke-width="1"/>
<g fill="#bb8de6" stroke="#b27ee3" stroke-width="0.5"><circle cx="421.8" cy="412.5" r="1.7"/><circle cx="415.4" cy="420.82" r="1.7"/><circle cx="409.79" cy="429.13" r="1.7"/><circle cx="404.89" cy="437.36" r="1.7"/><circle cx="400.15" cy="445.18" r="1.7"/><circle cx="395.58" cy="452.62" r="1.7"/><circle cx="391.65" cy="459.97" r="1.7"/><circle cx="388.09" cy="467.1" r="1.7"/><circle cx="384.82" cy="473.97" r="1.7"/><circle cx="382.14" cy="480.72" r="1.7"/><circle cx="379.72" cy="487.22" r="1.7"/><circle cx="377.51" cy="493.47" r="1.7"/><circle cx="375.58" cy="499.5" r="1.7"/><circle cx="373.62" cy="505.21" r="1.7"/><circle cx="371.61" cy="510.62" r="1.7"/><circle cx="369.85" cy="515.84" r="1.7"/><circle cx="368.14" cy="520.82" r="1.7"/><circle cx="365.63" cy="525.15" r="1.7"/><circle cx="362.09" cy="527.37" r="1.7"/><circle cx="358.25" cy="524.86" r="1.7"/><circle cx="354.36" cy="522.87" r="1.7"/><circle cx="350.38" cy="521.62" r="1.7"/><circle cx="346.41" cy="521.48" r="1.7"/><circle cx="342.67" cy="522.21" r="1.7"/><circle cx="339.35" cy="523.69" r="1.7"/><circle cx="336.6" cy="525.8" r="1.7"/><circle cx="334.47" cy="528.34" r="1.7"/><circle cx="332.79" cy="531.03" r="1.7"/><circle cx="331.52" cy="533.78" r="1.7"/><circle cx="330.5" cy="536.49" r="1.7"/><circle cx="329.66" cy="539.12" r="1.7"/><circle cx="328.96" cy="541.66" r="1.7"/><circle cx="328.35" cy="544.19" r="1.7"/><circle cx="327.78" cy="546.72" r="1.7"/><circle cx="327.29" cy="549.28" r="1.7"/><circle cx="326.89" cy="551.85" r="1.7"/><circle cx="326.61" cy="554.43" r="1.7"/><circle cx="326.39" cy="557.02" r="1.7"/></g>
<path d="M326.2,559.5 L326.34,558.9 L326.51,558.1 L326.72,557.13 L326.96,556.07 L327.21,554.97 L327.47,553.88 L327.74,552.87 L328,552 L328.26,551.25 L328.53,550.57 L328.81,549.95 L329.09,549.35 L329.39,548.77 L329.69,548.17 L329.99,547.56 L330.3,546.9 L330.62,546.19 L330.94,545.43 L331.27,544.65 L331.61,543.87 L331.96,543.09 L332.3,542.35 L332.65,541.64 L333,541 L333.35,540.41 L333.71,539.86 L334.06,539.35 L334.42,538.87 L334.79,538.42 L335.16,537.99 L335.53,537.58 L335.9,537.2 L336.27,536.84 L336.64,536.5 L337.02,536.19 L337.39,535.9 L337.78,535.64 L338.17,535.4 L338.58,535.19 L339,535 L339.44,534.84 L339.9,534.69 L340.38,534.57 L340.86,534.48 L341.35,534.42 L341.84,534.38 L342.32,534.37 L342.8,534.4 L343.27,534.46 L343.74,534.56 L344.22,534.68 L344.69,534.84 L345.15,535.02 L345.61,535.23 L346.06,535.45 L346.5,535.7 L346.93,535.97 L347.36,536.25 L347.78,536.57 L348.19,536.9 L348.59,537.26 L348.97,537.65 L349.35,538.06 L349.7,538.5 L350.03,538.98 L350.35,539.49 L350.65,540.03 L350.93,540.6 L351.21,541.19 L351.47,541.79 L351.74,542.39 L352,543 L352.26,543.63 L352.51,544.31 L352.76,545 L353.01,545.71 L353.24,546.4 L353.47,547.05 L353.69,547.66 L353.9,548.2 L354.1,548.67 L354.29,549.1 L354.47,549.49 L354.64,549.84 L354.8,550.16 L354.97,550.45 L355.13,550.73 L355.3,551 L355.46,551.25 L355.62,551.47 L355.77,551.67 L355.92,551.85 L356.07,552.01 L356.24,552.15 L356.41,552.28 L356.6,552.4 L356.81,552.51 L357.03,552.6 L357.26,552.68 L357.51,552.74 L357.75,552.78 L358,552.81 L358.25,552.81 L358.5,552.8 L358.75,552.77 L358.99,552.72 L359.24,552.66 L359.49,552.58 L359.75,552.48 L360,552.35 L360.25,552.19 L360.5,552 L360.75,551.79 L360.99,551.56 L361.23,551.32 L361.47,551.04 L361.72,550.73 L361.97,550.38 L362.23,549.97 L362.5,549.5 L362.79,548.98 L363.1,548.42 L363.41,547.81 L363.74,547.16 L364.06,546.45 L364.36,545.69 L364.65,544.88 L364.9,544 L365.12,543.05 L365.32,542.03 L365.5,540.94 L365.66,539.8 L365.82,538.62 L365.97,537.42 L366.13,536.21 L366.3,535 L366.48,533.8 L366.65,532.6 L366.83,531.38 L367.01,530.14 L367.18,528.87 L367.36,527.54 L367.53,526.16 L367.7,524.7 L367.87,523.15 L368.03,521.52 L368.19,519.82 L368.34,518.08 L368.5,516.31 L368.66,514.53 L368.83,512.75 L369,511 L369.18,509.28 L369.36,507.59 L369.55,505.9 L369.74,504.21 L369.93,502.48 L370.12,500.72 L370.31,498.9 L370.5,497 L370.69,495.01 L370.88,492.94 L371.07,490.81 L371.26,488.64 L371.45,486.46 L371.64,484.27 L371.82,482.11 L372,480 L372.17,477.9 L372.35,475.77 L372.52,473.63 L372.68,471.52 L372.84,469.44 L373,467.44 L373.15,465.51 L373.3,463.7 L373.44,462.01 L373.57,460.42 L373.7,458.92 L373.82,457.48 L373.95,456.09 L374.06,454.73 L374.18,453.37 L374.3,452 L374.42,450.63 L374.53,449.27 L374.65,447.93 L374.76,446.61 L374.87,445.31 L374.98,444.04 L375.09,442.8 L375.2,441.6 L375.31,440.43 L375.41,439.3 L375.52,438.19 L375.62,437.12 L375.72,436.07 L375.82,435.03 L375.91,434.01 L376,433 L376.09,431.96 L376.18,430.87 L376.27,429.78 L376.35,428.71 L376.43,427.71 L376.5,426.82 L376.56,426.07 L376.6,425.5" fill="none" stroke="#e8413f" stroke-width="1"/>
<g fill="#ea5756" stroke="#e8413f" stroke-width="0.5"><circle cx="376.6" cy="425.5" r="1.7"/><circle cx="374.86" cy="445.42" r="1.7"/><circle cx="373.43" cy="462.16" r="1.7"/><circle cx="372.31" cy="476.23" r="1.7"/><circle cx="371.31" cy="488.04" r="1.7"/><circle cx="370.4" cy="497.96" r="1.7"/><circle cx="369.51" cy="506.27" r="1.7"/><circle cx="368.78" cy="513.26" r="1.7"/><circle cx="368.25" cy="519.14" r="1.7"/><circle cx="367.77" cy="524.07" r="1.7"/><circle cx="367.27" cy="528.21" r="1.7"/><circle cx="366.79" cy="531.67" r="1.7"/><circle cx="366.36" cy="534.58" r="1.7"/><circle cx="366.03" cy="537.03" r="1.7"/><circle cx="365.72" cy="539.41" r="1.7"/><circle cx="365.36" cy="541.78" r="1.7"/><circle cx="364.86" cy="544.13" r="1.7"/><circle cx="364.08" cy="546.39" r="1.7"/><circle cx="363.02" cy="548.55" r="1.7"/><circle cx="361.81" cy="550.61" r="1.7"/><circle cx="360.1" cy="552.28" r="1.7"/><circle cx="357.8" cy="552.79" r="1.7"/><circle cx="355.76" cy="551.66" r="1.7"/><circle cx="354.52" cy="549.6" r="1.7"/><circle cx="353.59" cy="547.39" r="1.7"/><circle cx="352.81" cy="545.12" r="1.7"/><circle cx="351.95" cy="542.88" r="1.7"/><circle cx="350.97" cy="540.69" r="1.7"/><circle cx="349.78" cy="538.61" r="1.7"/><circle cx="348.14" cy="536.86" r="1.7"/><circle cx="346.17" cy="535.51" r="1.7"/><circle cx="343.95" cy="534.61" r="1.7"/><circle cx="341.57" cy="534.4" r="1.7"/><circle cx="339.23" cy="534.91" r="1.7"/><circle cx="337.15" cy="536.08" r="1.7"/><circle cx="335.4" cy="537.72" r="1.7"/><circle cx="333.9" cy="539.59" r="1.7"/><circle cx="332.65" cy="541.64" r="1.7"/><circle cx="331.64" cy="543.81" r="1.7"/><circle cx="330.69" cy="546.02" r="1.7"/><circle cx="329.68" cy="548.19" r="1.7"/><circle cx="328.63" cy="550.35" r="1.7"/><circle cx="327.82" cy="552.61" r="1.7"/><circle cx="327.22" cy="554.93" r="1.7"/><circle cx="326.69" cy="557.27" r="1.7"/></g>
<path d="M326.2,559.5 L326.34,558.87 L326.51,558.02 L326.72,557 L326.96,555.88 L327.21,554.71 L327.47,553.55 L327.74,552.46 L328,551.5 L328.26,550.65 L328.52,549.86 L328.79,549.1 L329.06,548.38 L329.35,547.66 L329.65,546.95 L329.97,546.24 L330.3,545.5 L330.66,544.73 L331.04,543.92 L331.44,543.1 L331.86,542.28 L332.28,541.49 L332.69,540.75 L333.1,540.08 L333.5,539.5 L333.88,539.01 L334.26,538.6 L334.64,538.24 L335.01,537.94 L335.38,537.68 L335.75,537.44 L336.12,537.22 L336.5,537 L336.88,536.78 L337.26,536.59 L337.64,536.41 L338.02,536.26 L338.41,536.13 L338.8,536.02 L339.2,535.95 L339.6,535.9 L340.01,535.88 L340.44,535.9 L340.87,535.94 L341.31,536.01 L341.74,536.1 L342.17,536.21 L342.59,536.35 L343,536.5 L343.4,536.68 L343.79,536.89 L344.17,537.13 L344.54,537.39 L344.91,537.66 L345.28,537.94 L345.64,538.22 L346,538.5 L346.35,538.78 L346.71,539.06 L347.05,539.36 L347.39,539.66 L347.73,539.96 L348.06,540.27 L348.38,540.58 L348.7,540.9 L349.01,541.22 L349.3,541.55 L349.59,541.89 L349.87,542.22 L350.16,542.57 L350.43,542.91 L350.72,543.26 L351,543.6 L351.29,543.95 L351.59,544.31 L351.89,544.67 L352.19,545.04 L352.48,545.4 L352.77,545.75 L353.04,546.08 L353.3,546.4 L353.54,546.7 L353.76,546.99 L353.97,547.27 L354.18,547.53 L354.37,547.79 L354.57,548.03 L354.78,548.27 L355,548.5 L355.23,548.72 L355.46,548.94 L355.7,549.15 L355.94,549.36 L356.19,549.54 L356.43,549.72 L356.67,549.87 L356.9,550 L357.13,550.11 L357.36,550.2 L357.58,550.27 L357.81,550.32 L358.03,550.36 L358.25,550.38 L358.48,550.4 L358.7,550.4 L358.92,550.39 L359.13,550.38 L359.34,550.34 L359.56,550.3 L359.77,550.24 L360,550.17 L360.24,550.09 L360.5,550 L360.78,549.89 L361.09,549.76 L361.4,549.62 L361.73,549.47 L362.06,549.31 L362.39,549.14 L362.7,548.97 L363,548.8 L363.28,548.64 L363.56,548.48 L363.83,548.32 L364.09,548.15 L364.34,547.97 L364.6,547.77 L364.85,547.55 L365.1,547.3 L365.35,547.02 L365.59,546.71 L365.84,546.38 L366.08,546.03 L366.31,545.67 L366.54,545.29 L366.77,544.9 L367,544.5 L367.23,544.09 L367.46,543.65 L367.68,543.2 L367.91,542.74 L368.12,542.27 L368.33,541.8 L368.52,541.35 L368.7,540.9 L368.86,540.47 L369,540.05 L369.14,539.63 L369.26,539.22 L369.37,538.8 L369.48,538.38 L369.59,537.95 L369.7,537.5 L369.81,537.05 L369.91,536.6 L370,536.15 L370.09,535.69 L370.19,535.21 L370.28,534.71 L370.39,534.17 L370.5,533.6 L370.63,532.97 L370.76,532.27 L370.9,531.53 L371.05,530.78 L371.2,530.02 L371.34,529.29 L371.47,528.61 L371.6,528 L371.72,527.48 L371.83,527.05 L371.94,526.67 L372.04,526.31 L372.14,525.94 L372.23,525.54 L372.32,525.07 L372.4,524.5 L372.48,523.84 L372.55,523.12 L372.61,522.35 L372.67,521.53 L372.73,520.68 L372.79,519.8 L372.84,518.9 L372.9,518 L372.95,517.08 L373,516.14 L373.05,515.17 L373.1,514.18 L373.15,513.16 L373.2,512.13 L373.25,511.07 L373.3,510 L373.36,508.9 L373.41,507.77 L373.47,506.61 L373.53,505.44 L373.59,504.25 L373.65,503.06 L373.72,501.88 L373.8,500.7 L373.88,499.54 L373.97,498.39 L374.06,497.24 L374.16,496.09 L374.26,494.93 L374.37,493.75 L374.48,492.54 L374.6,491.3 L374.73,490.03 L374.86,488.76 L375,487.47 L375.15,486.15 L375.3,484.8 L375.44,483.42 L375.57,481.98 L375.7,480.5 L375.81,478.96 L375.92,477.38 L376.01,475.76 L376.11,474.1 L376.2,472.4 L376.29,470.67 L376.39,468.9 L376.5,467.1 L376.61,465.28 L376.73,463.44 L376.86,461.57 L376.98,459.67 L377.11,457.72 L377.24,455.71 L377.37,453.64 L377.5,451.5 L377.63,449.3 L377.77,447.05 L377.91,444.75 L378.04,442.39 L378.18,439.96 L378.32,437.46 L378.46,434.87 L378.6,432.2 L378.75,429.24 L378.9,425.93 L379.06,422.42 L379.22,418.89 L379.37,415.52 L379.5,412.46 L379.62,409.9 L379.7,408" fill="none" stroke="#3aa868" stroke-width="1"/>
<g fill="#51b27a" stroke="#3aa868" stroke-width="0.5"><circle cx="379.7" cy="408" r="1.7"/><circle cx="378.61" cy="431.98" r="1.7"/><circle cx="377.49" cy="451.62" r="1.7"/><circle cx="376.46" cy="467.73" r="1.7"/><circle cx="375.66" cy="480.94" r="1.7"/><circle cx="374.56" cy="491.73" r="1.7"/><circle cx="373.81" cy="500.6" r="1.7"/><circle cx="373.41" cy="507.88" r="1.7"/><circle cx="373.11" cy="513.86" r="1.7"/><circle cx="372.85" cy="518.76" r="1.7"/><circle cx="372.58" cy="522.77" r="1.7"/><circle cx="372.11" cy="526.03" r="1.7"/><circle cx="371.47" cy="528.66" r="1.7"/><circle cx="371" cy="531.01" r="1.7"/><circle cx="370.55" cy="533.37" r="1.7"/><circle cx="370.09" cy="535.72" r="1.7"/><circle cx="369.56" cy="538.06" r="1.7"/><circle cx="368.89" cy="540.37" r="1.7"/><circle cx="367.98" cy="542.59" r="1.7"/><circle cx="366.88" cy="544.72" r="1.7"/><circle cx="365.58" cy="546.73" r="1.7"/><circle cx="363.81" cy="548.33" r="1.7"/><circle cx="361.7" cy="549.48" r="1.7"/><circle cx="359.46" cy="550.32" r="1.7"/><circle cx="357.1" cy="550.1" r="1.7"/><circle cx="355.18" cy="548.68" r="1.7"/><circle cx="353.65" cy="546.84" r="1.7"/><circle cx="352.14" cy="544.97" r="1.7"/><circle cx="350.61" cy="543.12" r="1.7"/><circle cx="349.06" cy="541.29" r="1.7"/><circle cx="347.34" cy="539.61" r="1.7"/><circle cx="345.48" cy="538.1" r="1.7"/><circle cx="343.51" cy="536.74" r="1.7"/><circle cx="341.24" cy="536" r="1.7"/><circle cx="338.85" cy="536.01" r="1.7"/><circle cx="336.64" cy="536.92" r="1.7"/><circle cx="334.64" cy="538.24" r="1.7"/><circle cx="333.11" cy="540.08" r="1.7"/><circle cx="331.92" cy="542.16" r="1.7"/><circle cx="330.86" cy="544.31" r="1.7"/><circle cx="329.85" cy="546.49" r="1.7"/><circle cx="328.94" cy="548.71" r="1.7"/><circle cx="328.16" cy="550.98" r="1.7"/><circle cx="327.53" cy="553.3" r="1.7"/><circle cx="327.01" cy="555.64" r="1.7"/><circle cx="326.52" cy="557.99" r="1.7"/></g>
<path d="M326.2,559.5 L326.3,558.98 L326.43,558.26 L326.58,557.4 L326.76,556.46 L326.94,555.5 L327.13,554.56 L327.32,553.71 L327.5,553 L327.67,552.43 L327.85,551.95 L328.03,551.53 L328.21,551.15 L328.39,550.79 L328.59,550.43 L328.79,550.04 L329,549.6 L329.23,549.11 L329.46,548.59 L329.71,548.06 L329.97,547.51 L330.23,546.97 L330.49,546.45 L330.75,545.96 L331,545.5 L331.25,545.08 L331.49,544.68 L331.73,544.31 L331.97,543.95 L332.21,543.61 L332.46,543.29 L332.73,542.99 L333,542.7 L333.28,542.43 L333.58,542.18 L333.87,541.95 L334.18,541.74 L334.5,541.54 L334.82,541.35 L335.16,541.17 L335.5,541 L335.86,540.83 L336.24,540.66 L336.63,540.49 L337.02,540.34 L337.43,540.21 L337.83,540.11 L338.22,540.03 L338.6,540 L338.97,540.01 L339.34,540.05 L339.71,540.12 L340.08,540.22 L340.44,540.34 L340.79,540.48 L341.15,540.64 L341.5,540.8 L341.85,540.98 L342.2,541.18 L342.54,541.39 L342.89,541.62 L343.23,541.87 L343.56,542.14 L343.88,542.41 L344.2,542.7 L344.51,543.01 L344.81,543.34 L345.11,543.69 L345.41,544.05 L345.69,544.42 L345.97,544.79 L346.24,545.15 L346.5,545.5 L346.75,545.85 L346.99,546.2 L347.22,546.55 L347.44,546.9 L347.65,547.24 L347.87,547.58 L348.08,547.9 L348.3,548.2 L348.52,548.49 L348.74,548.78 L348.95,549.05 L349.17,549.32 L349.38,549.57 L349.59,549.8 L349.8,550.01 L350,550.2 L350.19,550.36 L350.38,550.5 L350.56,550.61 L350.73,550.71 L350.91,550.79 L351.09,550.86 L351.29,550.93 L351.5,551 L351.73,551.07 L351.97,551.12 L352.22,551.18 L352.48,551.22 L352.74,551.25 L353,551.28 L353.26,551.29 L353.5,551.3 L353.73,551.3 L353.94,551.28 L354.15,551.26 L354.36,551.23 L354.57,551.19 L354.79,551.14 L355.03,551.08 L355.3,551 L355.59,550.92 L355.91,550.85 L356.24,550.77 L356.59,550.67 L356.94,550.56 L357.3,550.41 L357.65,550.23 L358,550 L358.35,549.73 L358.72,549.41 L359.09,549.07 L359.46,548.69 L359.83,548.29 L360.17,547.85 L360.5,547.39 L360.8,546.9 L361.07,546.38 L361.32,545.83 L361.54,545.25 L361.76,544.64 L361.95,544.01 L362.14,543.36 L362.32,542.69 L362.5,542 L362.67,541.3 L362.82,540.58 L362.97,539.84 L363.11,539.08 L363.24,538.3 L363.36,537.49 L363.48,536.66 L363.6,535.8 L363.72,534.91 L363.83,533.99 L363.93,533.04 L364.03,532.07 L364.13,531.08 L364.22,530.06 L364.31,529.04 L364.4,528 L364.48,526.96 L364.56,525.9 L364.64,524.84 L364.71,523.76 L364.78,522.65 L364.85,521.51 L364.92,520.33 L365,519.1 L365.08,517.82 L365.17,516.48 L365.26,515.09 L365.35,513.68 L365.44,512.25 L365.53,510.82 L365.62,509.4 L365.7,508 L365.78,506.64 L365.85,505.31 L365.93,504 L366,502.68 L366.07,501.34 L366.15,499.96 L366.22,498.52 L366.3,497 L366.38,495.39 L366.47,493.7 L366.56,491.96 L366.64,490.17 L366.73,488.36 L366.82,486.55 L366.91,484.76 L367,483 L367.09,481.26 L367.18,479.5 L367.28,477.74 L367.37,475.98 L367.46,474.25 L367.55,472.55 L367.63,470.9 L367.7,469.3 L367.76,467.77 L367.82,466.3 L367.87,464.87 L367.92,463.48 L367.96,462.1 L368.01,460.74 L368.05,459.38 L368.1,458 L368.15,456.62 L368.2,455.25 L368.25,453.89 L368.31,452.54 L368.36,451.18 L368.41,449.83 L368.45,448.47 L368.5,447.1 L368.54,445.72 L368.58,444.34 L368.62,442.95 L368.66,441.56 L368.69,440.16 L368.73,438.77 L368.76,437.38 L368.8,436 L368.84,434.55 L368.88,432.99 L368.93,431.38 L368.97,429.81 L369.01,428.31 L369.05,426.97 L369.08,425.85 L369.1,425" fill="none" stroke="#2670dc" stroke-width="1"/>
<g fill="#4081e0" stroke="#2670dc" stroke-width="0.5"><circle cx="369.1" cy="425" r="1.7"/><circle cx="368.55" cy="445.49" r="1.7"/><circle cx="367.94" cy="462.7" r="1.7"/><circle cx="367.31" cy="477.15" r="1.7"/><circle cx="366.69" cy="489.29" r="1.7"/><circle cx="366.17" cy="499.48" r="1.7"/><circle cx="365.7" cy="508.04" r="1.7"/><circle cx="365.25" cy="515.23" r="1.7"/><circle cx="364.86" cy="521.27" r="1.7"/><circle cx="364.53" cy="526.34" r="1.7"/><circle cx="364.17" cy="530.59" r="1.7"/><circle cx="363.81" cy="534.16" r="1.7"/><circle cx="363.41" cy="537.14" r="1.7"/><circle cx="363.01" cy="539.64" r="1.7"/><circle cx="362.5" cy="541.98" r="1.7"/><circle cx="361.86" cy="544.3" r="1.7"/><circle cx="360.99" cy="546.53" r="1.7"/><circle cx="359.64" cy="548.5" r="1.7"/><circle cx="357.85" cy="550.1" r="1.7"/><circle cx="355.61" cy="550.92" r="1.7"/><circle cx="353.26" cy="551.29" r="1.7"/><circle cx="350.92" cy="550.79" r="1.7"/><circle cx="349.11" cy="549.25" r="1.7"/><circle cx="347.7" cy="547.31" r="1.7"/><circle cx="346.37" cy="545.32" r="1.7"/><circle cx="344.89" cy="543.43" r="1.7"/><circle cx="343.13" cy="541.8" r="1.7"/><circle cx="341.06" cy="540.6" r="1.7"/><circle cx="338.76" cy="540" r="1.7"/><circle cx="336.44" cy="540.57" r="1.7"/><circle cx="334.31" cy="541.66" r="1.7"/><circle cx="332.51" cy="543.24" r="1.7"/><circle cx="331.16" cy="545.22" r="1.7"/><circle cx="330.05" cy="547.35" r="1.7"/><circle cx="329.04" cy="549.52" r="1.7"/><circle cx="327.97" cy="551.67" r="1.7"/><circle cx="327.26" cy="553.96" r="1.7"/><circle cx="326.79" cy="556.31" r="1.7"/><circle cx="326.35" cy="558.67" r="1.7"/></g>
</g>
<rect x="326.2" y="405.4" width="210.6" height="155.2" fill="none" stroke="#333" stroke-width="1.1"/>
<line x1="326.2" y1="560.6" x2="326.2" y2="563.4" stroke="#333" stroke-width="1"/>
<line x1="356.3" y1="560.6" x2="356.3" y2="563.4" stroke="#333" stroke-width="1"/>
<line x1="386.4" y1="560.6" x2="386.4" y2="563.4" stroke="#333" stroke-width="1"/>
<line x1="416.5" y1="560.6" x2="416.5" y2="563.4" stroke="#333" stroke-width="1"/>
<line x1="446.6" y1="560.6" x2="446.6" y2="563.4" stroke="#333" stroke-width="1"/>
<line x1="476.7" y1="560.6" x2="476.7" y2="563.4" stroke="#333" stroke-width="1"/>
<line x1="506.8" y1="560.6" x2="506.8" y2="563.4" stroke="#333" stroke-width="1"/>
<line x1="536.9" y1="560.6" x2="536.9" y2="563.4" stroke="#333" stroke-width="1"/>
<line x1="341.25" y1="560.6" x2="341.25" y2="562.2" stroke="#333" stroke-width="1"/>
<line x1="371.35" y1="560.6" x2="371.35" y2="562.2" stroke="#333" stroke-width="1"/>
<line x1="401.45" y1="560.6" x2="401.45" y2="562.2" stroke="#333" stroke-width="1"/>
<line x1="431.55" y1="560.6" x2="431.55" y2="562.2" stroke="#333" stroke-width="1"/>
<line x1="461.65" y1="560.6" x2="461.65" y2="562.2" stroke="#333" stroke-width="1"/>
<line x1="491.75" y1="560.6" x2="491.75" y2="562.2" stroke="#333" stroke-width="1"/>
<line x1="521.85" y1="560.6" x2="521.85" y2="562.2" stroke="#333" stroke-width="1"/>
<text x="326.2" y="573.4" font-size="9.6" text-anchor="middle" >0</text>
<text x="356.3" y="573.4" font-size="9.6" text-anchor="middle" >500</text>
<text x="386.4" y="573.4" font-size="9.6" text-anchor="middle" >1000</text>
<text x="416.5" y="573.4" font-size="9.6" text-anchor="middle" >1500</text>
<text x="446.6" y="573.4" font-size="9.6" text-anchor="middle" >2000</text>
<text x="476.7" y="573.4" font-size="9.6" text-anchor="middle" >2500</text>
<text x="506.8" y="573.4" font-size="9.6" text-anchor="middle" >3000</text>
<text x="536.9" y="573.4" font-size="9.6" text-anchor="middle" >3500</text>
<line x1="326.2" y1="560.4" x2="323.4" y2="560.4" stroke="#333" stroke-width="1"/>
<line x1="326.2" y1="529.36" x2="323.4" y2="529.36" stroke="#333" stroke-width="1"/>
<line x1="326.2" y1="498.32" x2="323.4" y2="498.32" stroke="#333" stroke-width="1"/>
<line x1="326.2" y1="467.28" x2="323.4" y2="467.28" stroke="#333" stroke-width="1"/>
<line x1="326.2" y1="436.24" x2="323.4" y2="436.24" stroke="#333" stroke-width="1"/>
<line x1="326.2" y1="405.2" x2="323.4" y2="405.2" stroke="#333" stroke-width="1"/>
<line x1="326.2" y1="544.88" x2="324.6" y2="544.88" stroke="#333" stroke-width="1"/>
<line x1="326.2" y1="513.84" x2="324.6" y2="513.84" stroke="#333" stroke-width="1"/>
<line x1="326.2" y1="482.8" x2="324.6" y2="482.8" stroke="#333" stroke-width="1"/>
<line x1="326.2" y1="451.76" x2="324.6" y2="451.76" stroke="#333" stroke-width="1"/>
<line x1="326.2" y1="420.72" x2="324.6" y2="420.72" stroke="#333" stroke-width="1"/>
<text x="321.9" y="563.3" font-size="9.6" text-anchor="end" >0</text>
<text x="321.9" y="532.26" font-size="9.6" text-anchor="end" >200</text>
<text x="321.9" y="501.22" font-size="9.6" text-anchor="end" >400</text>
<text x="321.9" y="470.18" font-size="9.6" text-anchor="end" >600</text>
<text x="321.9" y="439.14" font-size="9.6" text-anchor="end" >800</text>
<text x="321.9" y="408.1" font-size="9.6" text-anchor="end" >1000</text>
<line x1="471.5" y1="497.2" x2="493.7" y2="497.2" stroke="#3d3d3d" stroke-width="1.2"/>
<circle cx="482.6" cy="497.2" r="1.8" fill="#3d3d3d"/>
<text x="496.6" y="500.6" font-size="9.75" text-anchor="start" >Bi/C-30</text>
<line x1="471.5" y1="509.6" x2="493.7" y2="509.6" stroke="#e8413f" stroke-width="1.2"/>
<circle cx="482.6" cy="509.6" r="1.8" fill="#e8413f"/>
<text x="496.6" y="513" font-size="9.75" text-anchor="start" >Bi/C-60</text>
<line x1="471.5" y1="522" x2="493.7" y2="522" stroke="#2670dc" stroke-width="1.2"/>
<circle cx="482.6" cy="522" r="1.8" fill="#2670dc"/>
<text x="496.6" y="525.4" font-size="9.75" text-anchor="start" >Bi/C-90</text>
<line x1="471.5" y1="534.4" x2="493.7" y2="534.4" stroke="#3aa868" stroke-width="1.2"/>
<circle cx="482.6" cy="534.4" r="1.8" fill="#3aa868"/>
<text x="496.6" y="537.8" font-size="9.75" text-anchor="start" >Bi/C-120</text>
<line x1="471.5" y1="546.8" x2="493.7" y2="546.8" stroke="#b27ee3" stroke-width="1.2"/>
<circle cx="482.6" cy="546.8" r="1.8" fill="#b27ee3"/>
<text x="496.6" y="550.2" font-size="9.75" text-anchor="start" >Bi/C-150</text>
<text x="0" y="0" font-size="10.8" text-anchor="middle" transform="translate(297.5,483) rotate(-90)">-Z"(ohm)</text>
<text x="432.5" y="590" font-size="10.8" text-anchor="middle" >Z'/ohm</text>
<text x="275.4" y="408.3" font-size="21.3" text-anchor="start" style="stroke-width:0.1px">(f)</text>
</svg></body></html>
